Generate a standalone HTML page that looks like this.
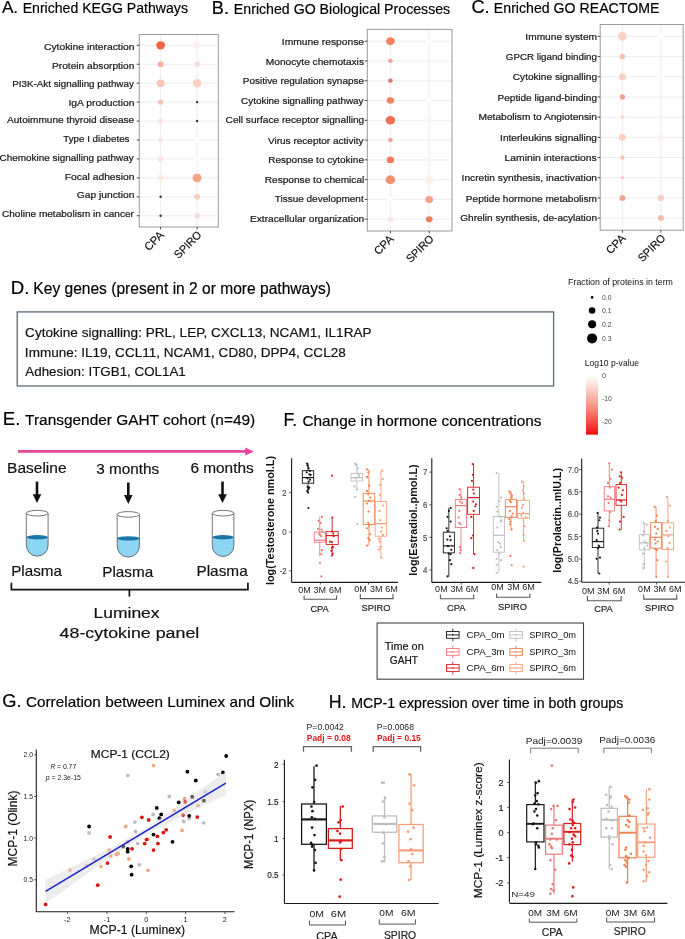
<!DOCTYPE html>
<html><head><meta charset="utf-8"><title>Figure</title>
<style>
html,body{margin:0;padding:0;background:#fff;}
body{width:685px;height:939px;overflow:hidden;}
svg{display:block;font-family:"Liberation Sans", sans-serif;will-change:transform;}
</style></head><body>
<svg width="685" height="939" viewBox="0 0 685 939">
<rect width="685" height="939" fill="#fff"/>
<text x="1.90" y="12.70" font-size="17.2" stroke="#000" stroke-width="0.18">A.</text>
<text x="22.67" y="12.70" font-size="14.0" textLength="165.29" lengthAdjust="spacingAndGlyphs" stroke="#000" stroke-width="0.18">Enriched KEGG Pathways</text>
<rect x="139.30" y="34.50" width="79.00" height="192.50" fill="#fff" stroke="none" stroke-width="1"/>
<line x1="139.30" y1="45.30" x2="218.30" y2="45.30" stroke="#ebebeb" stroke-width="0.9"/>
<line x1="139.30" y1="64.24" x2="218.30" y2="64.24" stroke="#ebebeb" stroke-width="0.9"/>
<line x1="139.30" y1="83.18" x2="218.30" y2="83.18" stroke="#ebebeb" stroke-width="0.9"/>
<line x1="139.30" y1="102.12" x2="218.30" y2="102.12" stroke="#ebebeb" stroke-width="0.9"/>
<line x1="139.30" y1="121.06" x2="218.30" y2="121.06" stroke="#ebebeb" stroke-width="0.9"/>
<line x1="139.30" y1="140.00" x2="218.30" y2="140.00" stroke="#ebebeb" stroke-width="0.9"/>
<line x1="139.30" y1="158.94" x2="218.30" y2="158.94" stroke="#ebebeb" stroke-width="0.9"/>
<line x1="139.30" y1="177.88" x2="218.30" y2="177.88" stroke="#ebebeb" stroke-width="0.9"/>
<line x1="139.30" y1="196.82" x2="218.30" y2="196.82" stroke="#ebebeb" stroke-width="0.9"/>
<line x1="139.30" y1="215.76" x2="218.30" y2="215.76" stroke="#ebebeb" stroke-width="0.9"/>
<line x1="160.60" y1="34.50" x2="160.60" y2="227.00" stroke="#ebebeb" stroke-width="0.9"/>
<line x1="197.10" y1="34.50" x2="197.10" y2="227.00" stroke="#ebebeb" stroke-width="0.9"/>
<rect x="139.30" y="34.50" width="79.00" height="192.50" fill="none" stroke="#9a9a9a" stroke-width="1"/>
<line x1="136.70" y1="45.30" x2="139.30" y2="45.30" stroke="#333" stroke-width="0.9"/>
<line x1="136.70" y1="64.24" x2="139.30" y2="64.24" stroke="#333" stroke-width="0.9"/>
<line x1="136.70" y1="83.18" x2="139.30" y2="83.18" stroke="#333" stroke-width="0.9"/>
<line x1="136.70" y1="102.12" x2="139.30" y2="102.12" stroke="#333" stroke-width="0.9"/>
<line x1="136.70" y1="121.06" x2="139.30" y2="121.06" stroke="#333" stroke-width="0.9"/>
<line x1="136.70" y1="140.00" x2="139.30" y2="140.00" stroke="#333" stroke-width="0.9"/>
<line x1="136.70" y1="158.94" x2="139.30" y2="158.94" stroke="#333" stroke-width="0.9"/>
<line x1="136.70" y1="177.88" x2="139.30" y2="177.88" stroke="#333" stroke-width="0.9"/>
<line x1="136.70" y1="196.82" x2="139.30" y2="196.82" stroke="#333" stroke-width="0.9"/>
<line x1="136.70" y1="215.76" x2="139.30" y2="215.76" stroke="#333" stroke-width="0.9"/>
<line x1="160.60" y1="227.00" x2="160.60" y2="229.40" stroke="#333" stroke-width="0.9"/>
<line x1="197.10" y1="227.00" x2="197.10" y2="229.40" stroke="#333" stroke-width="0.9"/>
<text x="43.99" y="49.50" font-size="9.2" fill="#1a1a1a" textLength="90.46" lengthAdjust="spacingAndGlyphs" stroke="#1a1a1a" stroke-width="0.22">Cytokine interaction</text>
<text x="52.09" y="68.60" font-size="9.2" fill="#1a1a1a" textLength="82.34" lengthAdjust="spacingAndGlyphs" stroke="#1a1a1a" stroke-width="0.22">Protein absorption</text>
<text x="12.32" y="86.60" font-size="9.2" fill="#1a1a1a" textLength="121.49" lengthAdjust="spacingAndGlyphs" stroke="#1a1a1a" stroke-width="0.22">PI3K-Akt signalling pathway</text>
<text x="68.47" y="105.80" font-size="9.2" fill="#1a1a1a" textLength="65.93" lengthAdjust="spacingAndGlyphs" stroke="#1a1a1a" stroke-width="0.22">IgA production</text>
<text x="7.00" y="123.00" font-size="9.2" fill="#1a1a1a" textLength="127.23" lengthAdjust="spacingAndGlyphs" stroke="#1a1a1a" stroke-width="0.22">Autoimmune thyroid disease</text>
<text x="63.30" y="142.30" font-size="9.2" fill="#1a1a1a" textLength="66.16" lengthAdjust="spacingAndGlyphs" stroke="#1a1a1a" stroke-width="0.22">Type I diabetes</text>
<text x="-0.50" y="160.90" font-size="9.2" fill="#1a1a1a" textLength="134.28" lengthAdjust="spacingAndGlyphs" stroke="#1a1a1a" stroke-width="0.22">Chemokine signalling pathway</text>
<text x="64.78" y="179.60" font-size="9.2" fill="#1a1a1a" textLength="69.66" lengthAdjust="spacingAndGlyphs" stroke="#1a1a1a" stroke-width="0.22">Focal adhesion</text>
<text x="76.79" y="198.30" font-size="9.2" fill="#1a1a1a" textLength="57.63" lengthAdjust="spacingAndGlyphs" stroke="#1a1a1a" stroke-width="0.22">Gap junction</text>
<text x="2.00" y="216.80" font-size="9.2" fill="#1a1a1a" textLength="131.93" lengthAdjust="spacingAndGlyphs" stroke="#1a1a1a" stroke-width="0.22">Choline metabolism in cancer</text>
<ellipse cx="160.60" cy="45.30" rx="4.40" ry="4.15" fill="#f26547"/>
<ellipse cx="197.10" cy="45.30" rx="3.40" ry="3.21" fill="#fdf1ed"/>
<ellipse cx="160.60" cy="64.24" rx="3.00" ry="2.83" fill="#f3b2a2"/>
<ellipse cx="197.10" cy="64.24" rx="3.00" ry="2.83" fill="#f8dcd5"/>
<ellipse cx="160.60" cy="83.18" rx="4.00" ry="3.77" fill="#f7c6b9"/>
<ellipse cx="197.10" cy="83.18" rx="4.40" ry="4.15" fill="#f9cfc4"/>
<ellipse cx="160.60" cy="102.12" rx="2.80" ry="2.64" fill="#f1c6b6"/>
<circle cx="197.10" cy="102.12" r="1.20" fill="#333"/>
<ellipse cx="160.60" cy="121.06" rx="2.50" ry="2.36" fill="#f6dedb"/>
<circle cx="197.10" cy="121.06" r="1.20" fill="#333"/>
<ellipse cx="160.60" cy="140.00" rx="2.50" ry="2.36" fill="#f4e2de"/>
<ellipse cx="197.10" cy="140.00" rx="2.60" ry="2.45" fill="#fff"/>
<ellipse cx="160.60" cy="158.94" rx="3.00" ry="2.83" fill="#f8e8e2"/>
<ellipse cx="197.10" cy="158.94" rx="2.60" ry="2.45" fill="#fff"/>
<ellipse cx="160.60" cy="177.88" rx="3.30" ry="3.11" fill="#fbeae4"/>
<ellipse cx="197.10" cy="177.88" rx="4.50" ry="4.25" fill="#f7a385"/>
<circle cx="160.60" cy="196.82" r="1.20" fill="#333"/>
<ellipse cx="197.10" cy="196.82" rx="3.00" ry="2.83" fill="#f6cec2"/>
<circle cx="160.60" cy="215.76" r="1.20" fill="#333"/>
<ellipse cx="197.10" cy="215.76" rx="3.00" ry="2.83" fill="#f8ddd5"/>
<text x="164.60" y="235.60" font-size="11.2" text-anchor="end" fill="#111" textLength="22.50" lengthAdjust="spacingAndGlyphs" transform="rotate(-45 164.60 235.60)" stroke="#111" stroke-width="0.18">CPA</text>
<text x="202.30" y="235.60" font-size="11.2" text-anchor="end" fill="#111" textLength="33.50" lengthAdjust="spacingAndGlyphs" transform="rotate(-45 202.30 235.60)" stroke="#111" stroke-width="0.18">SPIRO</text>
<text x="211.84" y="13.80" font-size="18.2" stroke="#000" stroke-width="0.18">B.</text>
<text x="233.87" y="13.80" font-size="14.0" textLength="216.33" lengthAdjust="spacingAndGlyphs" stroke="#000" stroke-width="0.18">Enriched GO Biological Processes</text>
<rect x="367.30" y="29.40" width="84.70" height="201.60" fill="#fff" stroke="none" stroke-width="1"/>
<line x1="367.30" y1="41.20" x2="452.00" y2="41.20" stroke="#ebebeb" stroke-width="0.9"/>
<line x1="367.30" y1="60.98" x2="452.00" y2="60.98" stroke="#ebebeb" stroke-width="0.9"/>
<line x1="367.30" y1="80.76" x2="452.00" y2="80.76" stroke="#ebebeb" stroke-width="0.9"/>
<line x1="367.30" y1="100.54" x2="452.00" y2="100.54" stroke="#ebebeb" stroke-width="0.9"/>
<line x1="367.30" y1="120.32" x2="452.00" y2="120.32" stroke="#ebebeb" stroke-width="0.9"/>
<line x1="367.30" y1="140.10" x2="452.00" y2="140.10" stroke="#ebebeb" stroke-width="0.9"/>
<line x1="367.30" y1="159.88" x2="452.00" y2="159.88" stroke="#ebebeb" stroke-width="0.9"/>
<line x1="367.30" y1="179.66" x2="452.00" y2="179.66" stroke="#ebebeb" stroke-width="0.9"/>
<line x1="367.30" y1="199.44" x2="452.00" y2="199.44" stroke="#ebebeb" stroke-width="0.9"/>
<line x1="367.30" y1="219.22" x2="452.00" y2="219.22" stroke="#ebebeb" stroke-width="0.9"/>
<line x1="390.40" y1="29.40" x2="390.40" y2="231.00" stroke="#ebebeb" stroke-width="0.9"/>
<line x1="429.20" y1="29.40" x2="429.20" y2="231.00" stroke="#ebebeb" stroke-width="0.9"/>
<rect x="367.30" y="29.40" width="84.70" height="201.60" fill="none" stroke="#9a9a9a" stroke-width="1"/>
<line x1="364.70" y1="41.20" x2="367.30" y2="41.20" stroke="#333" stroke-width="0.9"/>
<line x1="364.70" y1="60.98" x2="367.30" y2="60.98" stroke="#333" stroke-width="0.9"/>
<line x1="364.70" y1="80.76" x2="367.30" y2="80.76" stroke="#333" stroke-width="0.9"/>
<line x1="364.70" y1="100.54" x2="367.30" y2="100.54" stroke="#333" stroke-width="0.9"/>
<line x1="364.70" y1="120.32" x2="367.30" y2="120.32" stroke="#333" stroke-width="0.9"/>
<line x1="364.70" y1="140.10" x2="367.30" y2="140.10" stroke="#333" stroke-width="0.9"/>
<line x1="364.70" y1="159.88" x2="367.30" y2="159.88" stroke="#333" stroke-width="0.9"/>
<line x1="364.70" y1="179.66" x2="367.30" y2="179.66" stroke="#333" stroke-width="0.9"/>
<line x1="364.70" y1="199.44" x2="367.30" y2="199.44" stroke="#333" stroke-width="0.9"/>
<line x1="364.70" y1="219.22" x2="367.30" y2="219.22" stroke="#333" stroke-width="0.9"/>
<line x1="390.40" y1="231.00" x2="390.40" y2="233.40" stroke="#333" stroke-width="0.9"/>
<line x1="429.20" y1="231.00" x2="429.20" y2="233.40" stroke="#333" stroke-width="0.9"/>
<text x="281.88" y="45.40" font-size="9.2" fill="#1a1a1a" textLength="82.13" lengthAdjust="spacingAndGlyphs" stroke="#1a1a1a" stroke-width="0.22">Immune response</text>
<text x="265.79" y="64.60" font-size="9.2" fill="#1a1a1a" textLength="98.18" lengthAdjust="spacingAndGlyphs" stroke="#1a1a1a" stroke-width="0.22">Monocyte chemotaxis</text>
<text x="242.80" y="84.30" font-size="9.2" fill="#1a1a1a" textLength="121.19" lengthAdjust="spacingAndGlyphs" stroke="#1a1a1a" stroke-width="0.22">Positive regulation synapse</text>
<text x="241.00" y="103.50" font-size="9.2" fill="#1a1a1a" textLength="122.60" lengthAdjust="spacingAndGlyphs" stroke="#1a1a1a" stroke-width="0.22">Cytokine signalling pathway</text>
<text x="225.59" y="122.50" font-size="9.2" fill="#1a1a1a" textLength="138.60" lengthAdjust="spacingAndGlyphs" stroke="#1a1a1a" stroke-width="0.22">Cell surface receptor signalling</text>
<text x="267.95" y="143.90" font-size="9.2" fill="#1a1a1a" textLength="95.66" lengthAdjust="spacingAndGlyphs" stroke="#1a1a1a" stroke-width="0.22">Virus receptor activity</text>
<text x="268.20" y="163.40" font-size="9.2" fill="#1a1a1a" textLength="95.81" lengthAdjust="spacingAndGlyphs" stroke="#1a1a1a" stroke-width="0.22">Response to cytokine</text>
<text x="264.69" y="183.10" font-size="9.2" fill="#1a1a1a" textLength="99.60" lengthAdjust="spacingAndGlyphs" stroke="#1a1a1a" stroke-width="0.22">Response to chemical</text>
<text x="274.80" y="202.30" font-size="9.2" fill="#1a1a1a" textLength="88.87" lengthAdjust="spacingAndGlyphs" stroke="#1a1a1a" stroke-width="0.22">Tissue development</text>
<text x="249.99" y="222.40" font-size="9.2" fill="#1a1a1a" textLength="114.26" lengthAdjust="spacingAndGlyphs" stroke="#1a1a1a" stroke-width="0.22">Extracellular organization</text>
<ellipse cx="390.40" cy="41.20" rx="4.40" ry="3.93" fill="#f4845e"/>
<ellipse cx="429.20" cy="41.20" rx="3.00" ry="2.68" fill="#fff"/>
<ellipse cx="390.40" cy="60.98" rx="2.40" ry="2.14" fill="#eea898"/>
<ellipse cx="390.40" cy="80.76" rx="2.40" ry="2.14" fill="#e07a70"/>
<ellipse cx="390.40" cy="100.54" rx="3.70" ry="3.30" fill="#f4845e"/>
<ellipse cx="429.20" cy="100.54" rx="3.00" ry="2.68" fill="#fff"/>
<ellipse cx="390.40" cy="120.32" rx="4.70" ry="4.20" fill="#f47050"/>
<ellipse cx="429.20" cy="120.32" rx="3.50" ry="3.12" fill="#fdf5f2"/>
<ellipse cx="390.40" cy="140.10" rx="2.40" ry="2.14" fill="#eea090"/>
<ellipse cx="390.40" cy="159.88" rx="3.70" ry="3.30" fill="#f47c5e"/>
<ellipse cx="429.20" cy="159.88" rx="3.00" ry="2.68" fill="#fdf6f4"/>
<ellipse cx="390.40" cy="179.66" rx="4.80" ry="4.29" fill="#f49070"/>
<ellipse cx="429.20" cy="179.66" rx="4.20" ry="3.75" fill="#fdf0ec"/>
<ellipse cx="390.40" cy="199.44" rx="3.00" ry="2.68" fill="#fff"/>
<ellipse cx="429.20" cy="199.44" rx="3.90" ry="3.48" fill="#f7a08c"/>
<ellipse cx="390.40" cy="219.22" rx="2.80" ry="2.50" fill="#f9e4de"/>
<ellipse cx="429.20" cy="219.22" rx="3.40" ry="3.04" fill="#f47c5e"/>
<text x="394.40" y="239.60" font-size="11.2" text-anchor="end" fill="#111" textLength="22.50" lengthAdjust="spacingAndGlyphs" transform="rotate(-45 394.40 239.60)" stroke="#111" stroke-width="0.18">CPA</text>
<text x="434.40" y="239.60" font-size="11.2" text-anchor="end" fill="#111" textLength="33.50" lengthAdjust="spacingAndGlyphs" transform="rotate(-45 434.40 239.60)" stroke="#111" stroke-width="0.18">SPIRO</text>
<text x="471.49" y="13.00" font-size="18.2" stroke="#000" stroke-width="0.18">C.</text>
<text x="493.87" y="13.00" font-size="14.0" textLength="165.53" lengthAdjust="spacingAndGlyphs" stroke="#000" stroke-width="0.18">Enriched GO REACTOME</text>
<rect x="600.20" y="24.50" width="83.00" height="205.70" fill="#fff" stroke="none" stroke-width="1"/>
<line x1="600.20" y1="36.40" x2="683.20" y2="36.40" stroke="#ebebeb" stroke-width="0.9"/>
<line x1="600.20" y1="56.59" x2="683.20" y2="56.59" stroke="#ebebeb" stroke-width="0.9"/>
<line x1="600.20" y1="76.78" x2="683.20" y2="76.78" stroke="#ebebeb" stroke-width="0.9"/>
<line x1="600.20" y1="96.97" x2="683.20" y2="96.97" stroke="#ebebeb" stroke-width="0.9"/>
<line x1="600.20" y1="117.16" x2="683.20" y2="117.16" stroke="#ebebeb" stroke-width="0.9"/>
<line x1="600.20" y1="137.35" x2="683.20" y2="137.35" stroke="#ebebeb" stroke-width="0.9"/>
<line x1="600.20" y1="157.54" x2="683.20" y2="157.54" stroke="#ebebeb" stroke-width="0.9"/>
<line x1="600.20" y1="177.73" x2="683.20" y2="177.73" stroke="#ebebeb" stroke-width="0.9"/>
<line x1="600.20" y1="197.92" x2="683.20" y2="197.92" stroke="#ebebeb" stroke-width="0.9"/>
<line x1="600.20" y1="218.11" x2="683.20" y2="218.11" stroke="#ebebeb" stroke-width="0.9"/>
<line x1="622.40" y1="24.50" x2="622.40" y2="230.20" stroke="#ebebeb" stroke-width="0.9"/>
<line x1="660.90" y1="24.50" x2="660.90" y2="230.20" stroke="#ebebeb" stroke-width="0.9"/>
<rect x="600.20" y="24.50" width="83.00" height="205.70" fill="none" stroke="#9a9a9a" stroke-width="1"/>
<line x1="597.60" y1="36.40" x2="600.20" y2="36.40" stroke="#333" stroke-width="0.9"/>
<line x1="597.60" y1="56.59" x2="600.20" y2="56.59" stroke="#333" stroke-width="0.9"/>
<line x1="597.60" y1="76.78" x2="600.20" y2="76.78" stroke="#333" stroke-width="0.9"/>
<line x1="597.60" y1="96.97" x2="600.20" y2="96.97" stroke="#333" stroke-width="0.9"/>
<line x1="597.60" y1="117.16" x2="600.20" y2="117.16" stroke="#333" stroke-width="0.9"/>
<line x1="597.60" y1="137.35" x2="600.20" y2="137.35" stroke="#333" stroke-width="0.9"/>
<line x1="597.60" y1="157.54" x2="600.20" y2="157.54" stroke="#333" stroke-width="0.9"/>
<line x1="597.60" y1="177.73" x2="600.20" y2="177.73" stroke="#333" stroke-width="0.9"/>
<line x1="597.60" y1="197.92" x2="600.20" y2="197.92" stroke="#333" stroke-width="0.9"/>
<line x1="597.60" y1="218.11" x2="600.20" y2="218.11" stroke="#333" stroke-width="0.9"/>
<line x1="622.40" y1="230.20" x2="622.40" y2="232.60" stroke="#333" stroke-width="0.9"/>
<line x1="660.90" y1="230.20" x2="660.90" y2="232.60" stroke="#333" stroke-width="0.9"/>
<text x="525.39" y="39.70" font-size="9.2" fill="#1a1a1a" textLength="71.65" lengthAdjust="spacingAndGlyphs" stroke="#1a1a1a" stroke-width="0.22">Immune system</text>
<text x="505.81" y="59.90" font-size="9.2" fill="#1a1a1a" textLength="91.17" lengthAdjust="spacingAndGlyphs" stroke="#1a1a1a" stroke-width="0.22">GPCR ligand binding</text>
<text x="512.79" y="80.30" font-size="9.2" fill="#1a1a1a" textLength="84.24" lengthAdjust="spacingAndGlyphs" stroke="#1a1a1a" stroke-width="0.22">Cytokine signalling</text>
<text x="497.50" y="101.10" font-size="9.2" fill="#1a1a1a" textLength="99.53" lengthAdjust="spacingAndGlyphs" stroke="#1a1a1a" stroke-width="0.22">Peptide ligand-binding</text>
<text x="478.49" y="120.20" font-size="9.2" fill="#1a1a1a" textLength="118.51" lengthAdjust="spacingAndGlyphs" stroke="#1a1a1a" stroke-width="0.22">Metabolism to Angiotensin</text>
<text x="500.09" y="140.70" font-size="9.2" fill="#1a1a1a" textLength="96.93" lengthAdjust="spacingAndGlyphs" stroke="#1a1a1a" stroke-width="0.22">Interleukins signalling</text>
<text x="504.47" y="160.60" font-size="9.2" fill="#1a1a1a" textLength="92.28" lengthAdjust="spacingAndGlyphs" stroke="#1a1a1a" stroke-width="0.22">Laminin interactions</text>
<text x="461.58" y="181.40" font-size="9.2" fill="#1a1a1a" textLength="135.42" lengthAdjust="spacingAndGlyphs" stroke="#1a1a1a" stroke-width="0.22">Incretin synthesis, inactivation</text>
<text x="465.89" y="201.80" font-size="9.2" fill="#1a1a1a" textLength="131.13" lengthAdjust="spacingAndGlyphs" stroke="#1a1a1a" stroke-width="0.22">Peptide hormone metabolism</text>
<text x="460.30" y="221.00" font-size="9.2" fill="#1a1a1a" textLength="136.73" lengthAdjust="spacingAndGlyphs" stroke="#1a1a1a" stroke-width="0.22">Ghrelin synthesis, de-acylation</text>
<circle cx="622.40" cy="36.40" r="4.40" fill="#fad3c8"/>
<circle cx="660.90" cy="36.40" r="3.00" fill="#fff"/>
<circle cx="622.40" cy="56.59" r="2.80" fill="#f5c0b0"/>
<circle cx="622.40" cy="76.78" r="3.60" fill="#fad2c6"/>
<circle cx="660.90" cy="76.78" r="3.00" fill="#fffaf8"/>
<circle cx="622.40" cy="96.97" r="2.60" fill="#efa08e"/>
<circle cx="622.40" cy="117.16" r="1.80" fill="#f6d2c6"/>
<circle cx="622.40" cy="137.35" r="3.50" fill="#fad0c0"/>
<circle cx="660.90" cy="137.35" r="3.00" fill="#fdf0ec"/>
<circle cx="622.40" cy="157.54" r="2.20" fill="#f5c4b6"/>
<circle cx="622.40" cy="177.73" r="1.80" fill="#f5c8bc"/>
<circle cx="622.40" cy="197.92" r="3.00" fill="#f2a898"/>
<circle cx="660.90" cy="197.92" r="3.20" fill="#f8d0c6"/>
<circle cx="660.90" cy="218.11" r="3.00" fill="#f4bcad"/>
<text x="626.40" y="238.80" font-size="11.2" text-anchor="end" fill="#111" textLength="22.50" lengthAdjust="spacingAndGlyphs" transform="rotate(-45 626.40 238.80)" stroke="#111" stroke-width="0.18">CPA</text>
<text x="666.10" y="238.80" font-size="11.2" text-anchor="end" fill="#111" textLength="33.50" lengthAdjust="spacingAndGlyphs" transform="rotate(-45 666.10 238.80)" stroke="#111" stroke-width="0.18">SPIRO</text>
<text x="568.09" y="284.70" font-size="8.7" fill="#111" textLength="104.87" lengthAdjust="spacingAndGlyphs">Fraction of proteins in term</text>
<circle cx="592.10" cy="297.40" r="1.30" fill="#000"/>
<text x="602.03" y="299.90" font-size="7.2" fill="#444" textLength="9.41" lengthAdjust="spacingAndGlyphs">0.0</text>
<circle cx="592.10" cy="310.50" r="3.30" fill="#000"/>
<text x="602.03" y="313.00" font-size="7.2" fill="#444" textLength="9.48" lengthAdjust="spacingAndGlyphs">0.1</text>
<circle cx="592.10" cy="324.20" r="4.00" fill="#000"/>
<text x="602.03" y="326.70" font-size="7.2" fill="#444" textLength="9.52" lengthAdjust="spacingAndGlyphs">0.2</text>
<circle cx="592.10" cy="338.40" r="5.00" fill="#000"/>
<text x="602.03" y="340.90" font-size="7.2" fill="#444" textLength="9.44" lengthAdjust="spacingAndGlyphs">0.3</text>
<text x="584.82" y="365.50" font-size="8.4" fill="#111" textLength="54.26" lengthAdjust="spacingAndGlyphs">Log10 p-value</text>
<defs><linearGradient id="pg" x1="0" y1="0" x2="0" y2="1"><stop offset="0" stop-color="#ffffff"/><stop offset="0.5" stop-color="#f99a8a"/><stop offset="1" stop-color="#f01010"/></linearGradient></defs>
<rect x="586.00" y="375.70" width="12.00" height="59.00" fill="url(#pg)" stroke="none" stroke-width="1"/>
<text x="602.12" y="378.20" font-size="7.2" fill="#444" textLength="3.94" lengthAdjust="spacingAndGlyphs">0</text>
<text x="602.10" y="401.00" font-size="7.2" fill="#444" textLength="9.64" lengthAdjust="spacingAndGlyphs">-10</text>
<text x="602.10" y="424.00" font-size="7.2" fill="#444" textLength="9.64" lengthAdjust="spacingAndGlyphs">-20</text>
<text x="10.81" y="293.80" font-size="18.6" stroke="#000" stroke-width="0.18">D.</text>
<text x="33.35" y="293.70" font-size="15.6" textLength="297.60" lengthAdjust="spacingAndGlyphs" stroke="#000" stroke-width="0.18">Key genes (present in 2 or more pathways)</text>
<rect x="17.20" y="311.90" width="536.40" height="74.10" fill="none" stroke="#5d6b73" stroke-width="1.3"/>
<text x="25.12" y="337.40" font-size="13.0" fill="#111" textLength="346.45" lengthAdjust="spacingAndGlyphs" stroke="#111" stroke-width="0.18">Cytokine signalling: PRL, LEP, CXCL13, NCAM1, IL1RAP</text>
<text x="24.88" y="356.80" font-size="13.0" fill="#111" textLength="320.84" lengthAdjust="spacingAndGlyphs" stroke="#111" stroke-width="0.18">Immune: IL19, CCL11, NCAM1, CD80, DPP4, CCL28</text>
<text x="25.30" y="376.20" font-size="13.0" fill="#111" textLength="160.52" lengthAdjust="spacingAndGlyphs" stroke="#111" stroke-width="0.18">Adhesion: ITGB1, COL1A1</text>
<text x="2.70" y="424.80" font-size="18.7" stroke="#000" stroke-width="0.18">E.</text>
<text x="25.09" y="424.80" font-size="15.2" textLength="230.10" lengthAdjust="spacingAndGlyphs" stroke="#000" stroke-width="0.18">Transgender GAHT cohort (n=49)</text>
<line x1="18.00" y1="451.40" x2="246.50" y2="451.40" stroke="#e8449a" stroke-width="2.8"/>
<path d="M245.2,447.6 L253.9,451.4 L245.2,455.6 Z" fill="#e8449a" stroke="none" stroke-width="1"/>
<text x="7.06" y="472.60" font-size="13.8" fill="#111" textLength="59.48" lengthAdjust="spacingAndGlyphs" stroke="#111" stroke-width="0.18">Baseline</text>
<text x="96.27" y="473.80" font-size="13.8" fill="#111" textLength="62.84" lengthAdjust="spacingAndGlyphs" stroke="#111" stroke-width="0.18">3 months</text>
<text x="190.43" y="472.60" font-size="13.8" fill="#111" textLength="63.28" lengthAdjust="spacingAndGlyphs" stroke="#111" stroke-width="0.18">6 months</text>
<line x1="37.00" y1="481.60" x2="37.00" y2="497.00" stroke="#111" stroke-width="2.6"/>
<path d="M32.7,494.2 L37.0,503.0 L41.3,494.2 Z" fill="#111" stroke="none" stroke-width="1"/>
<line x1="128.30" y1="482.50" x2="128.30" y2="497.90" stroke="#111" stroke-width="2.6"/>
<path d="M124.0,495.1 L128.3,503.9 L132.6,495.1 Z" fill="#111" stroke="none" stroke-width="1"/>
<line x1="222.50" y1="481.60" x2="222.50" y2="497.10" stroke="#111" stroke-width="2.6"/>
<path d="M218.2,494.3 L222.5,503.1 L226.8,494.3 Z" fill="#111" stroke="none" stroke-width="1"/>
<path d="M26.3,537.3 L26.3,545.3 A10.9,10.9 0 0 0 48.1,545.3 L48.1,537.3 Z" fill="#8dd6f3" stroke="none" stroke-width="1"/>
<ellipse cx="37.2" cy="537.3" rx="10.9" ry="2.2" fill="#1a76a6"/>
<path d="M26.3,513.2 L26.3,545.3 A10.9,10.9 0 0 0 48.1,545.3 L48.1,513.2" fill="none" stroke="#4a4a4a" stroke-width="0.75"/>
<ellipse cx="37.2" cy="513.2" rx="10.9" ry="2.8" fill="#fff" stroke="#4a4a4a" stroke-width="0.75"/>
<path d="M117.2,538.4 L117.2,546.0 A11.1,11.1 0 0 0 139.4,546.0 L139.4,538.4 Z" fill="#8dd6f3" stroke="none" stroke-width="1"/>
<ellipse cx="128.3" cy="538.4" rx="11.1" ry="2.2" fill="#1a76a6"/>
<path d="M117.2,514.4 L117.2,546.0 A11.1,11.1 0 0 0 139.4,546.0 L139.4,514.4" fill="none" stroke="#4a4a4a" stroke-width="0.75"/>
<ellipse cx="128.3" cy="514.4" rx="11.1" ry="2.8" fill="#fff" stroke="#4a4a4a" stroke-width="0.75"/>
<path d="M212.3,537.2 L212.3,545.7 A10.8,10.8 0 0 0 233.9,545.7 L233.9,537.2 Z" fill="#8dd6f3" stroke="none" stroke-width="1"/>
<ellipse cx="223.1" cy="537.2" rx="10.8" ry="2.2" fill="#1a76a6"/>
<path d="M212.3,513.2 L212.3,545.7 A10.8,10.8 0 0 0 233.9,545.7 L233.9,513.2" fill="none" stroke="#4a4a4a" stroke-width="0.75"/>
<ellipse cx="223.1" cy="513.2" rx="10.8" ry="2.8" fill="#fff" stroke="#4a4a4a" stroke-width="0.75"/>
<text x="11.18" y="576.00" font-size="14.4" fill="#111" textLength="50.71" lengthAdjust="spacingAndGlyphs" stroke="#111" stroke-width="0.18">Plasma</text>
<text x="102.28" y="576.90" font-size="14.4" fill="#111" textLength="51.02" lengthAdjust="spacingAndGlyphs" stroke="#111" stroke-width="0.18">Plasma</text>
<text x="196.47" y="576.00" font-size="14.4" fill="#111" textLength="51.22" lengthAdjust="spacingAndGlyphs" stroke="#111" stroke-width="0.18">Plasma</text>
<path d="M11.4,582.8 V589.7 H247.9 V582.8" fill="none" stroke="#111" stroke-width="1.7"/>
<line x1="129.40" y1="589.70" x2="129.40" y2="596.60" stroke="#111" stroke-width="1.7"/>
<text x="93.50" y="617.60" font-size="14.0" fill="#111" textLength="66.07" lengthAdjust="spacingAndGlyphs" stroke="#111" stroke-width="0.18">Luminex</text>
<text x="59.64" y="637.70" font-size="14.0" fill="#111" textLength="139.68" lengthAdjust="spacingAndGlyphs" stroke="#111" stroke-width="0.18">48-cytokine panel</text>
<text x="283.38" y="425.60" font-size="17.8" stroke="#000" stroke-width="0.18">F.</text>
<text x="302.43" y="425.60" font-size="14.6" textLength="239.12" lengthAdjust="spacingAndGlyphs" stroke="#000" stroke-width="0.18">Change in hormone concentrations</text>
<line x1="308.00" y1="463.30" x2="308.00" y2="470.70" stroke="#1a1a1a" stroke-width="0.9"/>
<line x1="308.00" y1="483.20" x2="308.00" y2="493.00" stroke="#1a1a1a" stroke-width="0.9"/>
<rect x="302.30" y="470.70" width="11.40" height="12.50" fill="none" stroke="#1a1a1a" stroke-width="0.9"/>
<line x1="302.30" y1="477.60" x2="313.70" y2="477.60" stroke="#1a1a1a" stroke-width="1.2"/>
<circle cx="307.05" cy="463.66" r="1.10" fill="#1a1a1a"/>
<circle cx="307.59" cy="465.65" r="1.10" fill="#1a1a1a"/>
<circle cx="308.65" cy="468.32" r="1.10" fill="#1a1a1a"/>
<circle cx="309.98" cy="470.98" r="1.10" fill="#1a1a1a"/>
<circle cx="306.66" cy="472.31" r="1.10" fill="#1a1a1a"/>
<circle cx="309.32" cy="474.31" r="1.10" fill="#1a1a1a"/>
<circle cx="310.65" cy="474.97" r="1.10" fill="#1a1a1a"/>
<circle cx="307.32" cy="478.30" r="1.10" fill="#1a1a1a"/>
<circle cx="309.98" cy="479.63" r="1.10" fill="#1a1a1a"/>
<circle cx="308.65" cy="481.63" r="1.10" fill="#1a1a1a"/>
<circle cx="307.59" cy="486.96" r="1.10" fill="#1a1a1a"/>
<circle cx="309.32" cy="487.62" r="1.10" fill="#1a1a1a"/>
<circle cx="308.39" cy="488.95" r="1.10" fill="#1a1a1a"/>
<circle cx="307.32" cy="490.95" r="1.10" fill="#1a1a1a"/>
<circle cx="307.99" cy="492.55" r="1.10" fill="#1a1a1a"/>
<circle cx="308.39" cy="508.00" r="1.10" fill="#1a1a1a"/>
<line x1="319.75" y1="516.50" x2="319.75" y2="532.00" stroke="#f07878" stroke-width="0.9"/>
<line x1="319.75" y1="542.20" x2="319.75" y2="556.20" stroke="#f07878" stroke-width="0.9"/>
<rect x="314.20" y="532.00" width="11.10" height="10.20" fill="none" stroke="#f07878" stroke-width="0.9"/>
<line x1="314.20" y1="540.20" x2="325.30" y2="540.20" stroke="#f07878" stroke-width="1.2"/>
<circle cx="321.97" cy="516.92" r="1.10" fill="#f07878"/>
<circle cx="318.64" cy="520.91" r="1.10" fill="#f07878"/>
<circle cx="320.64" cy="522.91" r="1.10" fill="#f07878"/>
<circle cx="317.97" cy="528.90" r="1.10" fill="#f07878"/>
<circle cx="321.70" cy="529.57" r="1.10" fill="#f07878"/>
<circle cx="319.97" cy="534.89" r="1.10" fill="#f07878"/>
<circle cx="321.30" cy="536.23" r="1.10" fill="#f07878"/>
<circle cx="321.97" cy="550.21" r="1.10" fill="#f07878"/>
<circle cx="321.30" cy="554.20" r="1.10" fill="#f07878"/>
<circle cx="319.97" cy="562.86" r="1.10" fill="#f07878"/>
<circle cx="321.30" cy="576.44" r="1.10" fill="#f07878"/>
<circle cx="319.30" cy="533.56" r="1.10" fill="#f07878"/>
<circle cx="322.63" cy="532.23" r="1.10" fill="#f07878"/>
<line x1="332.20" y1="517.60" x2="332.20" y2="531.60" stroke="#d81e1e" stroke-width="0.9"/>
<line x1="332.20" y1="544.50" x2="332.20" y2="555.50" stroke="#d81e1e" stroke-width="0.9"/>
<rect x="326.20" y="531.60" width="12.00" height="12.90" fill="none" stroke="#d81e1e" stroke-width="0.9"/>
<line x1="326.20" y1="535.60" x2="338.20" y2="535.60" stroke="#d81e1e" stroke-width="1.2"/>
<circle cx="331.95" cy="475.64" r="1.10" fill="#d81e1e"/>
<circle cx="332.35" cy="517.58" r="1.10" fill="#d81e1e"/>
<circle cx="331.95" cy="531.56" r="1.10" fill="#d81e1e"/>
<circle cx="333.29" cy="533.56" r="1.10" fill="#d81e1e"/>
<circle cx="329.96" cy="541.55" r="1.10" fill="#d81e1e"/>
<circle cx="331.95" cy="542.22" r="1.10" fill="#d81e1e"/>
<circle cx="332.89" cy="546.88" r="1.10" fill="#d81e1e"/>
<circle cx="331.95" cy="548.21" r="1.10" fill="#d81e1e"/>
<circle cx="331.29" cy="550.87" r="1.10" fill="#d81e1e"/>
<circle cx="332.62" cy="553.54" r="1.10" fill="#d81e1e"/>
<circle cx="331.95" cy="555.53" r="1.10" fill="#d81e1e"/>
<circle cx="333.69" cy="536.23" r="1.10" fill="#d81e1e"/>
<line x1="356.85" y1="463.30" x2="356.85" y2="473.40" stroke="#bdbdbd" stroke-width="0.9"/>
<line x1="356.85" y1="481.00" x2="356.85" y2="489.90" stroke="#bdbdbd" stroke-width="0.9"/>
<rect x="351.00" y="473.40" width="11.70" height="7.60" fill="none" stroke="#bdbdbd" stroke-width="0.9"/>
<line x1="351.00" y1="477.60" x2="362.70" y2="477.60" stroke="#bdbdbd" stroke-width="1.2"/>
<circle cx="354.99" cy="463.66" r="1.10" fill="#bdbdbd"/>
<circle cx="356.32" cy="464.99" r="1.10" fill="#bdbdbd"/>
<circle cx="357.65" cy="468.32" r="1.10" fill="#bdbdbd"/>
<circle cx="358.98" cy="475.64" r="1.10" fill="#bdbdbd"/>
<circle cx="356.32" cy="478.30" r="1.10" fill="#bdbdbd"/>
<circle cx="354.32" cy="486.29" r="1.10" fill="#bdbdbd"/>
<circle cx="356.99" cy="489.62" r="1.10" fill="#bdbdbd"/>
<circle cx="355.26" cy="496.94" r="1.10" fill="#bdbdbd"/>
<circle cx="357.39" cy="523.97" r="1.10" fill="#bdbdbd"/>
<circle cx="358.32" cy="473.64" r="1.10" fill="#bdbdbd"/>
<line x1="368.95" y1="469.40" x2="368.95" y2="493.30" stroke="#f08050" stroke-width="0.9"/>
<line x1="368.95" y1="524.50" x2="368.95" y2="545.50" stroke="#f08050" stroke-width="0.9"/>
<rect x="363.20" y="493.30" width="11.50" height="31.20" fill="none" stroke="#f08050" stroke-width="0.9"/>
<line x1="363.20" y1="501.00" x2="374.70" y2="501.00" stroke="#f08050" stroke-width="1.2"/>
<circle cx="366.97" cy="469.38" r="1.10" fill="#f08050"/>
<circle cx="368.30" cy="472.31" r="1.10" fill="#f08050"/>
<circle cx="366.97" cy="476.97" r="1.10" fill="#f08050"/>
<circle cx="369.37" cy="485.63" r="1.10" fill="#f08050"/>
<circle cx="366.97" cy="490.95" r="1.10" fill="#f08050"/>
<circle cx="368.30" cy="494.28" r="1.10" fill="#f08050"/>
<circle cx="370.30" cy="497.61" r="1.10" fill="#f08050"/>
<circle cx="368.97" cy="500.94" r="1.10" fill="#f08050"/>
<circle cx="366.97" cy="503.60" r="1.10" fill="#f08050"/>
<circle cx="368.57" cy="511.59" r="1.10" fill="#f08050"/>
<circle cx="368.30" cy="522.91" r="1.10" fill="#f08050"/>
<circle cx="368.97" cy="525.57" r="1.10" fill="#f08050"/>
<circle cx="366.97" cy="528.24" r="1.10" fill="#f08050"/>
<circle cx="370.30" cy="534.23" r="1.10" fill="#f08050"/>
<circle cx="368.30" cy="538.22" r="1.10" fill="#f08050"/>
<circle cx="369.64" cy="540.22" r="1.10" fill="#f08050"/>
<circle cx="366.97" cy="545.55" r="1.10" fill="#f08050"/>
<line x1="380.95" y1="470.70" x2="380.95" y2="501.60" stroke="#f4a07a" stroke-width="0.9"/>
<line x1="380.95" y1="536.20" x2="380.95" y2="557.50" stroke="#f4a07a" stroke-width="0.9"/>
<rect x="375.20" y="501.60" width="11.50" height="34.60" fill="none" stroke="#f4a07a" stroke-width="0.9"/>
<line x1="375.20" y1="523.60" x2="386.70" y2="523.60" stroke="#f4a07a" stroke-width="1.2"/>
<circle cx="382.29" cy="470.71" r="1.10" fill="#f4a07a"/>
<circle cx="382.69" cy="478.97" r="1.10" fill="#f4a07a"/>
<circle cx="380.29" cy="484.96" r="1.10" fill="#f4a07a"/>
<circle cx="380.02" cy="494.95" r="1.10" fill="#f4a07a"/>
<circle cx="382.95" cy="505.60" r="1.10" fill="#f4a07a"/>
<circle cx="379.62" cy="510.93" r="1.10" fill="#f4a07a"/>
<circle cx="380.29" cy="520.25" r="1.10" fill="#f4a07a"/>
<circle cx="381.89" cy="527.57" r="1.10" fill="#f4a07a"/>
<circle cx="380.95" cy="531.56" r="1.10" fill="#f4a07a"/>
<circle cx="382.95" cy="534.89" r="1.10" fill="#f4a07a"/>
<circle cx="378.96" cy="538.89" r="1.10" fill="#f4a07a"/>
<circle cx="379.62" cy="541.55" r="1.10" fill="#f4a07a"/>
<circle cx="380.29" cy="546.88" r="1.10" fill="#f4a07a"/>
<circle cx="378.96" cy="549.54" r="1.10" fill="#f4a07a"/>
<circle cx="381.35" cy="557.53" r="1.10" fill="#f4a07a"/>
<line x1="448.85" y1="507.60" x2="448.85" y2="532.20" stroke="#1a1a1a" stroke-width="0.9"/>
<line x1="448.85" y1="552.90" x2="448.85" y2="576.40" stroke="#1a1a1a" stroke-width="0.9"/>
<rect x="443.30" y="532.20" width="11.10" height="20.70" fill="none" stroke="#1a1a1a" stroke-width="0.9"/>
<line x1="443.30" y1="545.90" x2="454.40" y2="545.90" stroke="#1a1a1a" stroke-width="1.2"/>
<circle cx="450.65" cy="508.00" r="1.10" fill="#1a1a1a"/>
<circle cx="448.92" cy="510.93" r="1.10" fill="#1a1a1a"/>
<circle cx="447.59" cy="516.92" r="1.10" fill="#1a1a1a"/>
<circle cx="450.65" cy="521.58" r="1.10" fill="#1a1a1a"/>
<circle cx="446.66" cy="528.24" r="1.10" fill="#1a1a1a"/>
<circle cx="447.59" cy="530.90" r="1.10" fill="#1a1a1a"/>
<circle cx="449.98" cy="536.23" r="1.10" fill="#1a1a1a"/>
<circle cx="447.32" cy="539.55" r="1.10" fill="#1a1a1a"/>
<circle cx="450.65" cy="540.22" r="1.10" fill="#1a1a1a"/>
<circle cx="447.99" cy="546.21" r="1.10" fill="#1a1a1a"/>
<circle cx="451.32" cy="549.81" r="1.10" fill="#1a1a1a"/>
<circle cx="448.65" cy="553.54" r="1.10" fill="#1a1a1a"/>
<circle cx="450.65" cy="554.20" r="1.10" fill="#1a1a1a"/>
<circle cx="449.98" cy="560.19" r="1.10" fill="#1a1a1a"/>
<circle cx="451.32" cy="564.19" r="1.10" fill="#1a1a1a"/>
<circle cx="447.59" cy="576.44" r="1.10" fill="#1a1a1a"/>
<line x1="460.95" y1="488.30" x2="460.95" y2="499.60" stroke="#f07878" stroke-width="0.9"/>
<line x1="460.95" y1="527.60" x2="460.95" y2="553.30" stroke="#f07878" stroke-width="0.9"/>
<rect x="455.30" y="499.60" width="11.30" height="28.00" fill="none" stroke="#f07878" stroke-width="0.9"/>
<line x1="455.30" y1="505.60" x2="466.60" y2="505.60" stroke="#f07878" stroke-width="1.2"/>
<circle cx="459.30" cy="489.35" r="1.10" fill="#f07878"/>
<circle cx="459.57" cy="494.95" r="1.10" fill="#f07878"/>
<circle cx="461.30" cy="497.61" r="1.10" fill="#f07878"/>
<circle cx="459.97" cy="501.60" r="1.10" fill="#f07878"/>
<circle cx="461.97" cy="502.94" r="1.10" fill="#f07878"/>
<circle cx="459.30" cy="510.93" r="1.10" fill="#f07878"/>
<circle cx="458.64" cy="517.58" r="1.10" fill="#f07878"/>
<circle cx="459.30" cy="522.91" r="1.10" fill="#f07878"/>
<circle cx="460.64" cy="524.24" r="1.10" fill="#f07878"/>
<circle cx="459.97" cy="546.88" r="1.10" fill="#f07878"/>
<circle cx="460.64" cy="550.21" r="1.10" fill="#f07878"/>
<circle cx="459.97" cy="553.27" r="1.10" fill="#f07878"/>
<line x1="473.55" y1="463.70" x2="473.55" y2="487.20" stroke="#d81e1e" stroke-width="0.9"/>
<line x1="473.55" y1="514.30" x2="473.55" y2="554.20" stroke="#d81e1e" stroke-width="0.9"/>
<rect x="467.60" y="487.20" width="11.90" height="27.10" fill="none" stroke="#d81e1e" stroke-width="0.9"/>
<line x1="467.60" y1="497.60" x2="479.50" y2="497.60" stroke="#d81e1e" stroke-width="1.2"/>
<circle cx="472.62" cy="464.05" r="1.10" fill="#d81e1e"/>
<circle cx="472.89" cy="474.97" r="1.10" fill="#d81e1e"/>
<circle cx="471.95" cy="480.97" r="1.10" fill="#d81e1e"/>
<circle cx="473.29" cy="489.62" r="1.10" fill="#d81e1e"/>
<circle cx="473.95" cy="493.62" r="1.10" fill="#d81e1e"/>
<circle cx="473.29" cy="501.60" r="1.10" fill="#d81e1e"/>
<circle cx="475.95" cy="504.27" r="1.10" fill="#d81e1e"/>
<circle cx="475.28" cy="506.26" r="1.10" fill="#d81e1e"/>
<circle cx="473.69" cy="510.93" r="1.10" fill="#d81e1e"/>
<circle cx="471.29" cy="516.92" r="1.10" fill="#d81e1e"/>
<circle cx="471.29" cy="538.22" r="1.10" fill="#d81e1e"/>
<circle cx="472.89" cy="535.56" r="1.10" fill="#d81e1e"/>
<circle cx="474.62" cy="554.20" r="1.10" fill="#d81e1e"/>
<circle cx="473.29" cy="567.92" r="1.10" fill="#d81e1e"/>
<line x1="498.85" y1="473.00" x2="498.85" y2="516.50" stroke="#bdbdbd" stroke-width="0.9"/>
<line x1="498.85" y1="552.20" x2="498.85" y2="572.80" stroke="#bdbdbd" stroke-width="0.9"/>
<rect x="493.30" y="516.50" width="11.10" height="35.70" fill="none" stroke="#bdbdbd" stroke-width="0.9"/>
<line x1="493.30" y1="535.30" x2="504.40" y2="535.30" stroke="#bdbdbd" stroke-width="1.2"/>
<circle cx="496.66" cy="472.98" r="1.10" fill="#bdbdbd"/>
<circle cx="501.05" cy="497.61" r="1.10" fill="#bdbdbd"/>
<circle cx="499.32" cy="500.94" r="1.10" fill="#bdbdbd"/>
<circle cx="496.66" cy="506.93" r="1.10" fill="#bdbdbd"/>
<circle cx="497.32" cy="511.59" r="1.10" fill="#bdbdbd"/>
<circle cx="500.65" cy="516.92" r="1.10" fill="#bdbdbd"/>
<circle cx="501.32" cy="520.25" r="1.10" fill="#bdbdbd"/>
<circle cx="500.65" cy="521.58" r="1.10" fill="#bdbdbd"/>
<circle cx="497.32" cy="527.57" r="1.10" fill="#bdbdbd"/>
<circle cx="497.99" cy="542.22" r="1.10" fill="#bdbdbd"/>
<circle cx="499.98" cy="543.55" r="1.10" fill="#bdbdbd"/>
<circle cx="500.65" cy="546.88" r="1.10" fill="#bdbdbd"/>
<circle cx="497.32" cy="550.21" r="1.10" fill="#bdbdbd"/>
<circle cx="499.32" cy="553.54" r="1.10" fill="#bdbdbd"/>
<circle cx="496.66" cy="558.86" r="1.10" fill="#bdbdbd"/>
<circle cx="501.05" cy="560.19" r="1.10" fill="#bdbdbd"/>
<circle cx="496.66" cy="564.85" r="1.10" fill="#bdbdbd"/>
<circle cx="496.66" cy="572.84" r="1.10" fill="#bdbdbd"/>
<line x1="510.95" y1="491.20" x2="510.95" y2="499.30" stroke="#f08050" stroke-width="0.9"/>
<line x1="510.95" y1="517.30" x2="510.95" y2="529.60" stroke="#f08050" stroke-width="0.9"/>
<rect x="505.30" y="499.30" width="11.30" height="18.00" fill="none" stroke="#f08050" stroke-width="0.9"/>
<line x1="505.30" y1="506.70" x2="516.60" y2="506.70" stroke="#f08050" stroke-width="1.2"/>
<circle cx="509.30" cy="491.62" r="1.10" fill="#f08050"/>
<circle cx="510.37" cy="493.62" r="1.10" fill="#f08050"/>
<circle cx="511.97" cy="495.61" r="1.10" fill="#f08050"/>
<circle cx="511.70" cy="497.61" r="1.10" fill="#f08050"/>
<circle cx="509.97" cy="500.94" r="1.10" fill="#f08050"/>
<circle cx="510.90" cy="502.27" r="1.10" fill="#f08050"/>
<circle cx="509.97" cy="510.93" r="1.10" fill="#f08050"/>
<circle cx="512.63" cy="513.59" r="1.10" fill="#f08050"/>
<circle cx="511.70" cy="516.25" r="1.10" fill="#f08050"/>
<circle cx="509.30" cy="518.91" r="1.10" fill="#f08050"/>
<circle cx="510.37" cy="521.58" r="1.10" fill="#f08050"/>
<circle cx="509.97" cy="524.24" r="1.10" fill="#f08050"/>
<circle cx="511.70" cy="529.57" r="1.10" fill="#f08050"/>
<circle cx="510.37" cy="555.93" r="1.10" fill="#f08050"/>
<circle cx="511.70" cy="565.25" r="1.10" fill="#f08050"/>
<line x1="523.55" y1="481.60" x2="523.55" y2="500.30" stroke="#f4a07a" stroke-width="0.9"/>
<line x1="523.55" y1="518.20" x2="523.55" y2="540.90" stroke="#f4a07a" stroke-width="0.9"/>
<rect x="517.60" y="500.30" width="11.90" height="17.90" fill="none" stroke="#f4a07a" stroke-width="0.9"/>
<line x1="517.60" y1="513.60" x2="529.50" y2="513.60" stroke="#f4a07a" stroke-width="1.2"/>
<circle cx="521.95" cy="481.63" r="1.10" fill="#f4a07a"/>
<circle cx="523.69" cy="486.29" r="1.10" fill="#f4a07a"/>
<circle cx="522.89" cy="490.69" r="1.10" fill="#f4a07a"/>
<circle cx="523.95" cy="493.62" r="1.10" fill="#f4a07a"/>
<circle cx="523.95" cy="498.94" r="1.10" fill="#f4a07a"/>
<circle cx="522.89" cy="504.93" r="1.10" fill="#f4a07a"/>
<circle cx="521.95" cy="507.60" r="1.10" fill="#f4a07a"/>
<circle cx="523.29" cy="512.92" r="1.10" fill="#f4a07a"/>
<circle cx="521.29" cy="515.59" r="1.10" fill="#f4a07a"/>
<circle cx="525.95" cy="517.58" r="1.10" fill="#f4a07a"/>
<circle cx="524.62" cy="526.24" r="1.10" fill="#f4a07a"/>
<circle cx="523.69" cy="534.89" r="1.10" fill="#f4a07a"/>
<circle cx="524.22" cy="540.89" r="1.10" fill="#f4a07a"/>
<circle cx="523.69" cy="566.58" r="1.10" fill="#f4a07a"/>
<line x1="598.00" y1="512.90" x2="598.00" y2="528.20" stroke="#1a1a1a" stroke-width="0.9"/>
<line x1="598.00" y1="547.50" x2="598.00" y2="573.50" stroke="#1a1a1a" stroke-width="0.9"/>
<rect x="592.30" y="528.20" width="11.40" height="19.30" fill="none" stroke="#1a1a1a" stroke-width="0.9"/>
<line x1="592.30" y1="541.60" x2="603.70" y2="541.60" stroke="#1a1a1a" stroke-width="1.2"/>
<circle cx="597.59" cy="512.92" r="1.10" fill="#1a1a1a"/>
<circle cx="599.98" cy="517.58" r="1.10" fill="#1a1a1a"/>
<circle cx="599.32" cy="520.25" r="1.10" fill="#1a1a1a"/>
<circle cx="597.05" cy="527.57" r="1.10" fill="#1a1a1a"/>
<circle cx="597.32" cy="530.90" r="1.10" fill="#1a1a1a"/>
<circle cx="597.99" cy="533.56" r="1.10" fill="#1a1a1a"/>
<circle cx="596.66" cy="540.22" r="1.10" fill="#1a1a1a"/>
<circle cx="598.65" cy="545.55" r="1.10" fill="#1a1a1a"/>
<circle cx="599.32" cy="546.88" r="1.10" fill="#1a1a1a"/>
<circle cx="597.99" cy="548.21" r="1.10" fill="#1a1a1a"/>
<circle cx="599.98" cy="557.53" r="1.10" fill="#1a1a1a"/>
<circle cx="596.66" cy="558.86" r="1.10" fill="#1a1a1a"/>
<circle cx="599.32" cy="573.51" r="1.10" fill="#1a1a1a"/>
<line x1="609.30" y1="463.30" x2="609.30" y2="486.70" stroke="#f07878" stroke-width="0.9"/>
<line x1="609.30" y1="510.90" x2="609.30" y2="526.90" stroke="#f07878" stroke-width="0.9"/>
<rect x="604.20" y="486.70" width="10.20" height="24.20" fill="none" stroke="#f07878" stroke-width="0.9"/>
<line x1="604.20" y1="499.20" x2="614.40" y2="499.20" stroke="#f07878" stroke-width="1.2"/>
<circle cx="609.30" cy="463.26" r="1.10" fill="#f07878"/>
<circle cx="611.97" cy="469.65" r="1.10" fill="#f07878"/>
<circle cx="610.64" cy="478.97" r="1.10" fill="#f07878"/>
<circle cx="607.97" cy="482.96" r="1.10" fill="#f07878"/>
<circle cx="609.97" cy="487.62" r="1.10" fill="#f07878"/>
<circle cx="607.97" cy="496.28" r="1.10" fill="#f07878"/>
<circle cx="610.64" cy="497.61" r="1.10" fill="#f07878"/>
<circle cx="608.64" cy="502.94" r="1.10" fill="#f07878"/>
<circle cx="609.97" cy="512.26" r="1.10" fill="#f07878"/>
<circle cx="609.30" cy="520.25" r="1.10" fill="#f07878"/>
<circle cx="608.64" cy="526.24" r="1.10" fill="#f07878"/>
<line x1="621.30" y1="472.30" x2="621.30" y2="484.60" stroke="#d81e1e" stroke-width="0.9"/>
<line x1="621.30" y1="505.30" x2="621.30" y2="529.60" stroke="#d81e1e" stroke-width="0.9"/>
<rect x="616.00" y="484.60" width="10.60" height="20.70" fill="none" stroke="#d81e1e" stroke-width="0.9"/>
<line x1="616.00" y1="500.00" x2="626.60" y2="500.00" stroke="#d81e1e" stroke-width="1.2"/>
<circle cx="621.02" cy="472.31" r="1.10" fill="#d81e1e"/>
<circle cx="619.69" cy="476.30" r="1.10" fill="#d81e1e"/>
<circle cx="621.95" cy="477.64" r="1.10" fill="#d81e1e"/>
<circle cx="619.96" cy="482.96" r="1.10" fill="#d81e1e"/>
<circle cx="618.63" cy="487.62" r="1.10" fill="#d81e1e"/>
<circle cx="622.89" cy="490.29" r="1.10" fill="#d81e1e"/>
<circle cx="621.95" cy="494.95" r="1.10" fill="#d81e1e"/>
<circle cx="619.96" cy="500.27" r="1.10" fill="#d81e1e"/>
<circle cx="621.29" cy="501.60" r="1.10" fill="#d81e1e"/>
<circle cx="623.69" cy="516.92" r="1.10" fill="#d81e1e"/>
<circle cx="619.96" cy="521.58" r="1.10" fill="#d81e1e"/>
<circle cx="619.69" cy="529.57" r="1.10" fill="#d81e1e"/>
<line x1="644.35" y1="522.90" x2="644.35" y2="534.60" stroke="#bdbdbd" stroke-width="0.9"/>
<line x1="644.35" y1="549.80" x2="644.35" y2="569.50" stroke="#bdbdbd" stroke-width="0.9"/>
<rect x="639.30" y="534.60" width="10.10" height="15.20" fill="none" stroke="#bdbdbd" stroke-width="0.9"/>
<line x1="639.30" y1="542.90" x2="649.40" y2="542.90" stroke="#bdbdbd" stroke-width="1.2"/>
<circle cx="643.66" cy="523.18" r="1.10" fill="#bdbdbd"/>
<circle cx="646.72" cy="524.51" r="1.10" fill="#bdbdbd"/>
<circle cx="643.66" cy="531.56" r="1.10" fill="#bdbdbd"/>
<circle cx="642.99" cy="535.56" r="1.10" fill="#bdbdbd"/>
<circle cx="644.32" cy="541.55" r="1.10" fill="#bdbdbd"/>
<circle cx="646.32" cy="542.88" r="1.10" fill="#bdbdbd"/>
<circle cx="647.25" cy="545.55" r="1.10" fill="#bdbdbd"/>
<circle cx="644.32" cy="548.21" r="1.10" fill="#bdbdbd"/>
<circle cx="642.99" cy="553.54" r="1.10" fill="#bdbdbd"/>
<circle cx="643.66" cy="564.19" r="1.10" fill="#bdbdbd"/>
<circle cx="643.26" cy="568.18" r="1.10" fill="#bdbdbd"/>
<line x1="656.05" y1="506.90" x2="656.05" y2="522.60" stroke="#f08050" stroke-width="0.9"/>
<line x1="656.05" y1="548.20" x2="656.05" y2="576.80" stroke="#f08050" stroke-width="0.9"/>
<rect x="650.70" y="522.60" width="10.70" height="25.60" fill="none" stroke="#f08050" stroke-width="0.9"/>
<line x1="650.70" y1="537.30" x2="661.40" y2="537.30" stroke="#f08050" stroke-width="1.2"/>
<circle cx="654.71" cy="506.93" r="1.10" fill="#f08050"/>
<circle cx="656.97" cy="515.59" r="1.10" fill="#f08050"/>
<circle cx="655.64" cy="520.91" r="1.10" fill="#f08050"/>
<circle cx="654.97" cy="526.90" r="1.10" fill="#f08050"/>
<circle cx="657.64" cy="528.90" r="1.10" fill="#f08050"/>
<circle cx="656.30" cy="533.56" r="1.10" fill="#f08050"/>
<circle cx="654.97" cy="539.55" r="1.10" fill="#f08050"/>
<circle cx="657.64" cy="541.55" r="1.10" fill="#f08050"/>
<circle cx="655.64" cy="543.55" r="1.10" fill="#f08050"/>
<circle cx="654.97" cy="548.87" r="1.10" fill="#f08050"/>
<circle cx="656.97" cy="550.21" r="1.10" fill="#f08050"/>
<circle cx="657.37" cy="560.19" r="1.10" fill="#f08050"/>
<circle cx="656.30" cy="576.84" r="1.10" fill="#f08050"/>
<line x1="667.95" y1="497.00" x2="667.95" y2="522.90" stroke="#f4a07a" stroke-width="0.9"/>
<line x1="667.95" y1="549.50" x2="667.95" y2="576.80" stroke="#f4a07a" stroke-width="0.9"/>
<rect x="662.30" y="522.90" width="11.30" height="26.60" fill="none" stroke="#f4a07a" stroke-width="0.9"/>
<line x1="662.30" y1="534.90" x2="673.60" y2="534.90" stroke="#f4a07a" stroke-width="1.2"/>
<circle cx="666.96" cy="496.94" r="1.10" fill="#f4a07a"/>
<circle cx="669.89" cy="505.60" r="1.10" fill="#f4a07a"/>
<circle cx="668.02" cy="520.91" r="1.10" fill="#f4a07a"/>
<circle cx="669.89" cy="527.57" r="1.10" fill="#f4a07a"/>
<circle cx="666.29" cy="530.90" r="1.10" fill="#f4a07a"/>
<circle cx="668.29" cy="536.23" r="1.10" fill="#f4a07a"/>
<circle cx="669.62" cy="542.88" r="1.10" fill="#f4a07a"/>
<circle cx="667.62" cy="548.21" r="1.10" fill="#f4a07a"/>
<circle cx="666.29" cy="561.52" r="1.10" fill="#f4a07a"/>
<circle cx="668.02" cy="576.84" r="1.10" fill="#f4a07a"/>
<line x1="291.60" y1="458.20" x2="291.60" y2="582.40" stroke="#1a1a1a" stroke-width="1.1"/>
<line x1="289.10" y1="492.60" x2="291.60" y2="492.60" stroke="#333" stroke-width="0.8"/>
<text x="286.60" y="495.82" font-size="9.2" text-anchor="end" fill="#4d4d4d" textLength="4.35" lengthAdjust="spacingAndGlyphs" stroke="#4d4d4d" stroke-width="0.18">2</text>
<line x1="289.10" y1="531.90" x2="291.60" y2="531.90" stroke="#333" stroke-width="0.8"/>
<text x="286.60" y="535.12" font-size="9.2" text-anchor="end" fill="#4d4d4d" textLength="4.35" lengthAdjust="spacingAndGlyphs" stroke="#4d4d4d" stroke-width="0.18">0</text>
<line x1="289.10" y1="570.80" x2="291.60" y2="570.80" stroke="#333" stroke-width="0.8"/>
<text x="286.60" y="574.02" font-size="9.2" text-anchor="end" fill="#4d4d4d" textLength="6.95" lengthAdjust="spacingAndGlyphs" stroke="#4d4d4d" stroke-width="0.18">-2</text>
<line x1="291.80" y1="582.40" x2="398.10" y2="582.40" stroke="#1a1a1a" stroke-width="1.1"/>
<line x1="431.80" y1="458.20" x2="431.80" y2="582.40" stroke="#1a1a1a" stroke-width="1.1"/>
<line x1="429.30" y1="472.10" x2="431.80" y2="472.10" stroke="#333" stroke-width="0.8"/>
<text x="427.40" y="475.32" font-size="9.2" text-anchor="end" fill="#4d4d4d" textLength="4.35" lengthAdjust="spacingAndGlyphs" stroke="#4d4d4d" stroke-width="0.18">7</text>
<line x1="429.30" y1="504.80" x2="431.80" y2="504.80" stroke="#333" stroke-width="0.8"/>
<text x="427.40" y="508.02" font-size="9.2" text-anchor="end" fill="#4d4d4d" textLength="4.35" lengthAdjust="spacingAndGlyphs" stroke="#4d4d4d" stroke-width="0.18">6</text>
<line x1="429.30" y1="537.30" x2="431.80" y2="537.30" stroke="#333" stroke-width="0.8"/>
<text x="427.40" y="540.52" font-size="9.2" text-anchor="end" fill="#4d4d4d" textLength="4.35" lengthAdjust="spacingAndGlyphs" stroke="#4d4d4d" stroke-width="0.18">5</text>
<line x1="429.30" y1="570.00" x2="431.80" y2="570.00" stroke="#333" stroke-width="0.8"/>
<text x="427.40" y="573.22" font-size="9.2" text-anchor="end" fill="#4d4d4d" textLength="4.35" lengthAdjust="spacingAndGlyphs" stroke="#4d4d4d" stroke-width="0.18">4</text>
<line x1="431.80" y1="582.40" x2="541.40" y2="582.40" stroke="#1a1a1a" stroke-width="1.1"/>
<line x1="581.70" y1="458.50" x2="581.70" y2="582.30" stroke="#1a1a1a" stroke-width="1.1"/>
<line x1="579.20" y1="469.70" x2="581.70" y2="469.70" stroke="#333" stroke-width="0.8"/>
<text x="578.60" y="472.92" font-size="9.2" text-anchor="end" fill="#4d4d4d" textLength="10.87" lengthAdjust="spacingAndGlyphs" stroke="#4d4d4d" stroke-width="0.18">7.0</text>
<line x1="579.20" y1="491.90" x2="581.70" y2="491.90" stroke="#333" stroke-width="0.8"/>
<text x="578.60" y="495.12" font-size="9.2" text-anchor="end" fill="#4d4d4d" textLength="10.87" lengthAdjust="spacingAndGlyphs" stroke="#4d4d4d" stroke-width="0.18">6.5</text>
<line x1="579.20" y1="514.10" x2="581.70" y2="514.10" stroke="#333" stroke-width="0.8"/>
<text x="578.60" y="517.32" font-size="9.2" text-anchor="end" fill="#4d4d4d" textLength="10.87" lengthAdjust="spacingAndGlyphs" stroke="#4d4d4d" stroke-width="0.18">6.0</text>
<line x1="579.20" y1="536.40" x2="581.70" y2="536.40" stroke="#333" stroke-width="0.8"/>
<text x="578.60" y="539.62" font-size="9.2" text-anchor="end" fill="#4d4d4d" textLength="10.87" lengthAdjust="spacingAndGlyphs" stroke="#4d4d4d" stroke-width="0.18">5.5</text>
<line x1="579.20" y1="559.00" x2="581.70" y2="559.00" stroke="#333" stroke-width="0.8"/>
<text x="578.60" y="562.22" font-size="9.2" text-anchor="end" fill="#4d4d4d" textLength="10.87" lengthAdjust="spacingAndGlyphs" stroke="#4d4d4d" stroke-width="0.18">5.0</text>
<line x1="579.20" y1="581.20" x2="581.70" y2="581.20" stroke="#333" stroke-width="0.8"/>
<text x="578.60" y="584.42" font-size="9.2" text-anchor="end" fill="#4d4d4d" textLength="10.87" lengthAdjust="spacingAndGlyphs" stroke="#4d4d4d" stroke-width="0.18">4.5</text>
<line x1="581.70" y1="582.30" x2="685.00" y2="582.30" stroke="#1a1a1a" stroke-width="1.1"/>
<line x1="320.40" y1="582.30" x2="320.40" y2="584.60" stroke="#333" stroke-width="0.8"/>
<line x1="368.50" y1="582.30" x2="368.50" y2="584.60" stroke="#333" stroke-width="0.8"/>
<text x="298.24" y="592.50" font-size="8.2" fill="#222" textLength="12.52" lengthAdjust="spacingAndGlyphs">0M</text>
<text x="313.59" y="592.50" font-size="8.2" fill="#222" textLength="12.47" lengthAdjust="spacingAndGlyphs">3M</text>
<text x="329.05" y="592.50" font-size="8.2" fill="#222" textLength="12.62" lengthAdjust="spacingAndGlyphs">6M</text>
<text x="354.34" y="591.60" font-size="8.2" fill="#222" textLength="12.52" lengthAdjust="spacingAndGlyphs">0M</text>
<text x="369.99" y="591.60" font-size="8.2" fill="#222" textLength="12.47" lengthAdjust="spacingAndGlyphs">3M</text>
<text x="385.25" y="591.60" font-size="8.2" fill="#222" textLength="12.62" lengthAdjust="spacingAndGlyphs">6M</text>
<path d="M304.1,595.5 V599.3 H336.6 V595.5" fill="none" stroke="#5a5a5a" stroke-width="1.1"/>
<path d="M360.3,594.0 V598.6 H393.0 V594.0" fill="none" stroke="#5a5a5a" stroke-width="1.1"/>
<text x="319.60" y="611.90" font-size="9.3" text-anchor="middle" fill="#222" stroke="#222" stroke-width="0.18">CPA</text>
<text x="376.00" y="610.60" font-size="9.3" text-anchor="middle" fill="#222" stroke="#222" stroke-width="0.18">SPIRO</text>
<line x1="461.30" y1="582.30" x2="461.30" y2="584.60" stroke="#333" stroke-width="0.8"/>
<line x1="513.40" y1="582.30" x2="513.40" y2="584.60" stroke="#333" stroke-width="0.8"/>
<text x="435.14" y="591.50" font-size="8.2" fill="#222" textLength="12.52" lengthAdjust="spacingAndGlyphs">0M</text>
<text x="450.49" y="591.50" font-size="8.2" fill="#222" textLength="12.47" lengthAdjust="spacingAndGlyphs">3M</text>
<text x="465.75" y="591.50" font-size="8.2" fill="#222" textLength="12.62" lengthAdjust="spacingAndGlyphs">6M</text>
<text x="491.34" y="590.30" font-size="8.2" fill="#222" textLength="12.52" lengthAdjust="spacingAndGlyphs">0M</text>
<text x="507.39" y="590.30" font-size="8.2" fill="#222" textLength="12.47" lengthAdjust="spacingAndGlyphs">3M</text>
<text x="522.25" y="590.30" font-size="8.2" fill="#222" textLength="12.62" lengthAdjust="spacingAndGlyphs">6M</text>
<path d="M440.4,594.6 V598.8 H473.7 V594.6" fill="none" stroke="#5a5a5a" stroke-width="1.1"/>
<path d="M496.6,593.5 V597.2 H529.9 V593.5" fill="none" stroke="#5a5a5a" stroke-width="1.1"/>
<text x="456.30" y="610.70" font-size="9.3" text-anchor="middle" fill="#222" stroke="#222" stroke-width="0.18">CPA</text>
<text x="512.50" y="609.50" font-size="9.3" text-anchor="middle" fill="#222" stroke="#222" stroke-width="0.18">SPIRO</text>
<line x1="609.20" y1="582.30" x2="609.20" y2="584.60" stroke="#333" stroke-width="0.8"/>
<line x1="656.60" y1="582.30" x2="656.60" y2="584.60" stroke="#333" stroke-width="0.8"/>
<text x="581.94" y="593.50" font-size="8.2" fill="#222" textLength="12.52" lengthAdjust="spacingAndGlyphs">0M</text>
<text x="597.39" y="593.50" font-size="8.2" fill="#222" textLength="12.47" lengthAdjust="spacingAndGlyphs">3M</text>
<text x="612.65" y="593.50" font-size="8.2" fill="#222" textLength="12.62" lengthAdjust="spacingAndGlyphs">6M</text>
<text x="638.14" y="591.90" font-size="8.2" fill="#222" textLength="12.52" lengthAdjust="spacingAndGlyphs">0M</text>
<text x="653.59" y="591.90" font-size="8.2" fill="#222" textLength="12.47" lengthAdjust="spacingAndGlyphs">3M</text>
<text x="668.95" y="591.90" font-size="8.2" fill="#222" textLength="12.62" lengthAdjust="spacingAndGlyphs">6M</text>
<path d="M587.4,595.9 V600.7 H621.1 V595.9" fill="none" stroke="#5a5a5a" stroke-width="1.1"/>
<path d="M643.7,594.6 V599.1 H676.7 V594.6" fill="none" stroke="#5a5a5a" stroke-width="1.1"/>
<text x="603.40" y="612.40" font-size="9.3" text-anchor="middle" fill="#222" stroke="#222" stroke-width="0.18">CPA</text>
<text x="659.50" y="611.10" font-size="9.3" text-anchor="middle" fill="#222" stroke="#222" stroke-width="0.18">SPIRO</text>
<text x="273.90" y="520.50" font-size="10.0" text-anchor="middle" font-weight="bold" fill="#111" textLength="129.00" lengthAdjust="spacingAndGlyphs" transform="rotate(-90 273.90 520.50)">log(Testosterone nmol.L)</text>
<text x="417.00" y="520.00" font-size="10.0" text-anchor="middle" font-weight="bold" fill="#111" textLength="111.40" lengthAdjust="spacingAndGlyphs" transform="rotate(-90 417.00 520.00)">log(Estradiol..pmol.L)</text>
<text x="560.60" y="520.40" font-size="10.0" text-anchor="middle" font-weight="bold" fill="#111" textLength="104.80" lengthAdjust="spacingAndGlyphs" transform="rotate(-90 560.60 520.40)">log(Prolactin..mIU.L)</text>
<rect x="377.10" y="623.00" width="206.40" height="56.20" fill="#fff" stroke="#444" stroke-width="1.1"/>
<text x="384.78" y="649.90" font-size="10.4" fill="#111" textLength="38.98" lengthAdjust="spacingAndGlyphs" stroke="#111" stroke-width="0.18">Time on</text>
<text x="389.79" y="663.70" font-size="10.4" fill="#111" textLength="28.24" lengthAdjust="spacingAndGlyphs" stroke="#111" stroke-width="0.18">GAHT</text>
<line x1="452.80" y1="628.60" x2="452.80" y2="641.20" stroke="#1a1a1a" stroke-width="0.9"/>
<rect x="446.50" y="631.50" width="12.60" height="6.80" fill="#fff" stroke="#1a1a1a" stroke-width="0.9"/>
<line x1="446.50" y1="634.90" x2="459.10" y2="634.90" stroke="#1a1a1a" stroke-width="0.9"/>
<circle cx="452.80" cy="634.90" r="0.80" fill="#1a1a1a"/>
<line x1="516.10" y1="628.60" x2="516.10" y2="641.20" stroke="#bdbdbd" stroke-width="0.9"/>
<rect x="509.80" y="631.50" width="12.60" height="6.80" fill="#fff" stroke="#bdbdbd" stroke-width="0.9"/>
<line x1="509.80" y1="634.90" x2="522.40" y2="634.90" stroke="#bdbdbd" stroke-width="0.9"/>
<circle cx="516.10" cy="634.90" r="0.80" fill="#bdbdbd"/>
<text x="466.52" y="638.00" font-size="8.4" fill="#111" textLength="38.09" lengthAdjust="spacingAndGlyphs">CPA_0m</text>
<text x="529.18" y="638.00" font-size="8.4" fill="#111" textLength="46.89" lengthAdjust="spacingAndGlyphs">SPIRO_0m</text>
<line x1="452.80" y1="645.60" x2="452.80" y2="658.20" stroke="#f07878" stroke-width="0.9"/>
<rect x="446.50" y="648.50" width="12.60" height="6.80" fill="#fff" stroke="#f07878" stroke-width="0.9"/>
<line x1="446.50" y1="651.90" x2="459.10" y2="651.90" stroke="#f07878" stroke-width="0.9"/>
<circle cx="452.80" cy="651.90" r="0.80" fill="#f07878"/>
<line x1="516.10" y1="645.60" x2="516.10" y2="658.20" stroke="#f08050" stroke-width="0.9"/>
<rect x="509.80" y="648.50" width="12.60" height="6.80" fill="#fff" stroke="#f08050" stroke-width="0.9"/>
<line x1="509.80" y1="651.90" x2="522.40" y2="651.90" stroke="#f08050" stroke-width="0.9"/>
<circle cx="516.10" cy="651.90" r="0.80" fill="#f08050"/>
<text x="466.52" y="655.00" font-size="8.4" fill="#111" textLength="38.09" lengthAdjust="spacingAndGlyphs">CPA_3m</text>
<text x="529.18" y="655.00" font-size="8.4" fill="#111" textLength="46.89" lengthAdjust="spacingAndGlyphs">SPIRO_3m</text>
<line x1="452.80" y1="661.70" x2="452.80" y2="674.30" stroke="#d81e1e" stroke-width="0.9"/>
<rect x="446.50" y="664.60" width="12.60" height="6.80" fill="#fff" stroke="#d81e1e" stroke-width="0.9"/>
<line x1="446.50" y1="668.00" x2="459.10" y2="668.00" stroke="#d81e1e" stroke-width="0.9"/>
<circle cx="452.80" cy="668.00" r="0.80" fill="#d81e1e"/>
<line x1="516.10" y1="661.70" x2="516.10" y2="674.30" stroke="#f4a07a" stroke-width="0.9"/>
<rect x="509.80" y="664.60" width="12.60" height="6.80" fill="#fff" stroke="#f4a07a" stroke-width="0.9"/>
<line x1="509.80" y1="668.00" x2="522.40" y2="668.00" stroke="#f4a07a" stroke-width="0.9"/>
<circle cx="516.10" cy="668.00" r="0.80" fill="#f4a07a"/>
<text x="466.52" y="671.10" font-size="8.4" fill="#111" textLength="38.09" lengthAdjust="spacingAndGlyphs">CPA_6m</text>
<text x="529.18" y="671.10" font-size="8.4" fill="#111" textLength="46.89" lengthAdjust="spacingAndGlyphs">SPIRO_6m</text>
<text x="2.19" y="707.00" font-size="18.3" stroke="#000" stroke-width="0.18">G.</text>
<text x="25.93" y="707.00" font-size="14.6" textLength="268.37" lengthAdjust="spacingAndGlyphs" stroke="#000" stroke-width="0.18">Correlation between Luminex and Olink</text>
<circle cx="127.70" cy="775.50" r="1.90" fill="#bdbdbd"/>
<circle cx="218.10" cy="774.40" r="1.90" fill="#bdbdbd"/>
<circle cx="169.30" cy="796.50" r="1.90" fill="#bdbdbd"/>
<circle cx="205.40" cy="791.90" r="1.90" fill="#bdbdbd"/>
<circle cx="153.10" cy="814.40" r="1.90" fill="#bdbdbd"/>
<circle cx="134.90" cy="822.10" r="1.90" fill="#bdbdbd"/>
<circle cx="135.50" cy="831.50" r="1.90" fill="#bdbdbd"/>
<circle cx="137.70" cy="843.60" r="1.90" fill="#bdbdbd"/>
<circle cx="183.70" cy="821.50" r="1.90" fill="#bdbdbd"/>
<circle cx="189.20" cy="818.40" r="1.90" fill="#bdbdbd"/>
<circle cx="203.60" cy="822.80" r="1.90" fill="#bdbdbd"/>
<circle cx="139.30" cy="864.80" r="1.90" fill="#bdbdbd"/>
<circle cx="93.90" cy="859.30" r="1.90" fill="#bdbdbd"/>
<circle cx="89.10" cy="832.90" r="1.90" fill="#bdbdbd"/>
<circle cx="153.50" cy="765.60" r="1.90" fill="#f4a582"/>
<circle cx="125.70" cy="826.50" r="1.90" fill="#f4a582"/>
<circle cx="174.30" cy="810.50" r="1.90" fill="#f4a582"/>
<circle cx="198.00" cy="805.70" r="1.90" fill="#f4a582"/>
<circle cx="184.60" cy="798.70" r="1.90" fill="#f4a582"/>
<circle cx="182.00" cy="830.40" r="1.90" fill="#f4a582"/>
<circle cx="148.00" cy="839.20" r="1.90" fill="#f4a582"/>
<circle cx="127.70" cy="841.80" r="1.90" fill="#f4a582"/>
<circle cx="128.80" cy="858.90" r="1.90" fill="#f4a582"/>
<circle cx="118.00" cy="853.40" r="1.90" fill="#f4a582"/>
<circle cx="116.30" cy="854.50" r="1.90" fill="#f4a582"/>
<circle cx="110.80" cy="856.00" r="1.90" fill="#f4a582"/>
<circle cx="101.00" cy="866.60" r="1.90" fill="#f4a582"/>
<circle cx="109.30" cy="850.10" r="1.90" fill="#f4a582"/>
<circle cx="148.00" cy="870.30" r="1.90" fill="#f4a582"/>
<circle cx="70.00" cy="870.00" r="1.90" fill="#f4a582"/>
<circle cx="86.50" cy="865.80" r="1.90" fill="#f4a582"/>
<circle cx="141.90" cy="817.30" r="1.90" fill="#dd1111"/>
<circle cx="148.70" cy="819.90" r="1.90" fill="#dd1111"/>
<circle cx="110.10" cy="837.00" r="1.90" fill="#dd1111"/>
<circle cx="157.40" cy="836.30" r="1.90" fill="#dd1111"/>
<circle cx="146.50" cy="839.60" r="1.90" fill="#dd1111"/>
<circle cx="144.70" cy="843.60" r="1.90" fill="#dd1111"/>
<circle cx="157.90" cy="843.60" r="1.90" fill="#dd1111"/>
<circle cx="153.50" cy="850.10" r="1.90" fill="#dd1111"/>
<circle cx="132.00" cy="848.80" r="1.90" fill="#dd1111"/>
<circle cx="163.40" cy="832.60" r="1.90" fill="#dd1111"/>
<circle cx="166.20" cy="829.80" r="1.90" fill="#dd1111"/>
<circle cx="183.10" cy="815.10" r="1.90" fill="#dd1111"/>
<circle cx="185.20" cy="802.00" r="1.90" fill="#dd1111"/>
<circle cx="197.30" cy="817.10" r="1.90" fill="#dd1111"/>
<circle cx="107.50" cy="863.10" r="1.90" fill="#dd1111"/>
<circle cx="97.70" cy="885.20" r="1.90" fill="#dd1111"/>
<circle cx="45.60" cy="904.40" r="1.90" fill="#dd1111"/>
<circle cx="226.20" cy="756.00" r="1.90" fill="#000"/>
<circle cx="222.90" cy="772.40" r="1.90" fill="#000"/>
<circle cx="187.40" cy="771.70" r="1.90" fill="#000"/>
<circle cx="195.80" cy="780.50" r="1.90" fill="#000"/>
<circle cx="192.30" cy="796.90" r="1.90" fill="#000"/>
<circle cx="203.90" cy="800.70" r="1.90" fill="#000"/>
<circle cx="178.70" cy="802.40" r="1.90" fill="#000"/>
<circle cx="156.80" cy="807.90" r="1.90" fill="#000"/>
<circle cx="161.20" cy="814.40" r="1.90" fill="#000"/>
<circle cx="159.40" cy="818.20" r="1.90" fill="#000"/>
<circle cx="189.20" cy="815.80" r="1.90" fill="#000"/>
<circle cx="153.50" cy="834.60" r="1.90" fill="#000"/>
<circle cx="172.50" cy="841.80" r="1.90" fill="#000"/>
<circle cx="127.70" cy="848.80" r="1.90" fill="#000"/>
<circle cx="127.70" cy="851.70" r="1.90" fill="#000"/>
<circle cx="123.30" cy="846.60" r="1.90" fill="#000"/>
<circle cx="131.20" cy="866.30" r="1.90" fill="#000"/>
<circle cx="131.60" cy="874.70" r="1.90" fill="#000"/>
<circle cx="89.10" cy="826.50" r="1.90" fill="#000"/>
<polygon points="45.6,879.8 50.1,877.6 54.6,875.5 59.1,873.3 63.6,871.1 68.1,868.9 72.6,866.7 77.1,864.5 81.6,862.3 86.1,860.1 90.7,857.9 95.2,855.6 99.7,853.4 104.2,851.1 108.7,848.8 113.2,846.4 117.7,844.1 122.2,841.6 126.7,839.1 131.2,836.6 135.7,833.9 140.2,831.2 144.7,828.3 149.2,825.4 153.7,822.4 158.2,819.4 162.7,816.3 167.2,813.2 171.7,810.1 176.2,806.9 180.8,803.7 185.3,800.5 189.8,797.3 194.3,794.1 198.8,790.9 203.3,787.7 207.8,784.4 212.3,781.2 216.8,778.0 221.3,774.7 225.8,771.5 225.8,794.9 221.3,797.1 216.8,799.3 212.3,801.5 207.8,803.6 203.3,805.8 198.8,808.0 194.3,810.2 189.8,812.4 185.3,814.7 180.8,816.9 176.2,819.1 171.7,821.4 167.2,823.7 162.7,826.0 158.2,828.3 153.7,830.7 149.2,833.1 144.7,835.6 140.2,838.2 135.7,840.9 131.2,843.7 126.7,846.5 122.2,849.4 117.7,852.4 113.2,855.5 108.7,858.5 104.2,861.7 99.7,864.8 95.2,868.0 90.7,871.1 86.1,874.3 81.6,877.5 77.1,880.8 72.6,884.0 68.1,887.2 63.6,890.4 59.1,893.7 54.6,896.9 50.1,900.1 45.6,903.4" fill="#d4d4d4" fill-opacity="0.45"/>
<line x1="45.60" y1="891.40" x2="225.80" y2="783.20" stroke="#1a1ec8" stroke-width="1.5"/>
<line x1="36.30" y1="749.50" x2="36.30" y2="912.00" stroke="#1a1a1a" stroke-width="1.1"/>
<line x1="34.10" y1="754.80" x2="36.30" y2="754.80" stroke="#333" stroke-width="0.8"/>
<text x="33.00" y="757.39" font-size="7.4" text-anchor="end" fill="#222" textLength="9.46" lengthAdjust="spacingAndGlyphs">2.0</text>
<line x1="34.10" y1="796.50" x2="36.30" y2="796.50" stroke="#333" stroke-width="0.8"/>
<text x="33.00" y="799.09" font-size="7.4" text-anchor="end" fill="#222" textLength="9.46" lengthAdjust="spacingAndGlyphs">1.5</text>
<line x1="34.10" y1="838.10" x2="36.30" y2="838.10" stroke="#333" stroke-width="0.8"/>
<text x="33.00" y="840.69" font-size="7.4" text-anchor="end" fill="#222" textLength="9.46" lengthAdjust="spacingAndGlyphs">1.0</text>
<line x1="34.10" y1="879.80" x2="36.30" y2="879.80" stroke="#333" stroke-width="0.8"/>
<text x="33.00" y="882.39" font-size="7.4" text-anchor="end" fill="#222" textLength="9.46" lengthAdjust="spacingAndGlyphs">0.5</text>
<line x1="36.30" y1="911.80" x2="234.50" y2="911.80" stroke="#1a1a1a" stroke-width="1.1"/>
<line x1="67.40" y1="911.80" x2="67.40" y2="914.00" stroke="#333" stroke-width="0.8"/>
<text x="67.40" y="921.60" font-size="7.4" text-anchor="middle" fill="#222">-2</text>
<line x1="107.00" y1="911.80" x2="107.00" y2="914.00" stroke="#333" stroke-width="0.8"/>
<text x="107.00" y="921.60" font-size="7.4" text-anchor="middle" fill="#222">-1</text>
<line x1="146.30" y1="911.80" x2="146.30" y2="914.00" stroke="#333" stroke-width="0.8"/>
<text x="146.30" y="921.60" font-size="7.4" text-anchor="middle" fill="#222">0</text>
<line x1="185.60" y1="911.80" x2="185.60" y2="914.00" stroke="#333" stroke-width="0.8"/>
<text x="185.60" y="921.60" font-size="7.4" text-anchor="middle" fill="#222">1</text>
<line x1="224.90" y1="911.80" x2="224.90" y2="914.00" stroke="#333" stroke-width="0.8"/>
<text x="224.90" y="921.60" font-size="7.4" text-anchor="middle" fill="#222">2</text>
<text x="90.84" y="757.90" font-size="10.9" fill="#111" textLength="79.00" lengthAdjust="spacingAndGlyphs" stroke="#111" stroke-width="0.18">MCP-1 (CCL2)</text>
<text x="50.60" y="768.90" font-size="6.9" font-style="italic" fill="#222">R</text>
<text x="56.96" y="768.90" font-size="6.9" fill="#222" textLength="19.31" lengthAdjust="spacingAndGlyphs">= 0.77</text>
<text x="45.80" y="780.40" font-size="6.9" font-style="italic" fill="#222">p</text>
<text x="51.46" y="780.40" font-size="6.9" fill="#222" textLength="29.35" lengthAdjust="spacingAndGlyphs">= 2.3e-15</text>
<text x="89.62" y="934.30" font-size="12.6" fill="#111" textLength="95.57" lengthAdjust="spacingAndGlyphs" stroke="#111" stroke-width="0.18">MCP-1 (Luminex)</text>
<text x="17.44" y="828.50" font-size="12.6" text-anchor="middle" fill="#111" textLength="75.80" lengthAdjust="spacingAndGlyphs" transform="rotate(-90 17.44 828.50)" stroke="#111" stroke-width="0.18">MCP-1 (Olink)</text>
<text x="328.68" y="707.50" font-size="17.8" stroke="#000" stroke-width="0.18">H.</text>
<text x="351.17" y="707.50" font-size="13.8" textLength="272.15" lengthAdjust="spacingAndGlyphs" stroke="#000" stroke-width="0.18">MCP-1 expression over time in both groups</text>
<line x1="314.00" y1="766.20" x2="314.00" y2="804.00" stroke="#1a1a1a" stroke-width="1.3"/>
<line x1="314.00" y1="844.30" x2="314.00" y2="870.50" stroke="#1a1a1a" stroke-width="1.3"/>
<rect x="301.60" y="804.00" width="24.80" height="40.30" fill="none" stroke="#1a1a1a" stroke-width="1.3"/>
<line x1="301.60" y1="819.40" x2="326.40" y2="819.40" stroke="#1a1a1a" stroke-width="2.2"/>
<circle cx="316.57" cy="765.63" r="1.35" fill="#1a1a1a"/>
<circle cx="315.14" cy="779.93" r="1.35" fill="#1a1a1a"/>
<circle cx="312.48" cy="787.29" r="1.35" fill="#1a1a1a"/>
<circle cx="314.12" cy="802.01" r="1.35" fill="#1a1a1a"/>
<circle cx="311.46" cy="806.50" r="1.35" fill="#1a1a1a"/>
<circle cx="312.48" cy="811.20" r="1.35" fill="#1a1a1a"/>
<circle cx="311.87" cy="817.33" r="1.35" fill="#1a1a1a"/>
<circle cx="314.93" cy="818.76" r="1.35" fill="#1a1a1a"/>
<circle cx="312.07" cy="827.55" r="1.35" fill="#1a1a1a"/>
<circle cx="314.52" cy="835.11" r="1.35" fill="#1a1a1a"/>
<circle cx="311.05" cy="842.88" r="1.35" fill="#1a1a1a"/>
<circle cx="312.07" cy="846.56" r="1.35" fill="#1a1a1a"/>
<circle cx="314.93" cy="850.03" r="1.35" fill="#1a1a1a"/>
<circle cx="312.48" cy="844.92" r="1.35" fill="#1a1a1a"/>
<circle cx="315.55" cy="862.91" r="1.35" fill="#1a1a1a"/>
<circle cx="314.12" cy="870.47" r="1.35" fill="#1a1a1a"/>
<line x1="340.35" y1="806.10" x2="340.35" y2="828.60" stroke="#d81e1e" stroke-width="1.3"/>
<line x1="340.35" y1="848.40" x2="340.35" y2="860.30" stroke="#d81e1e" stroke-width="1.3"/>
<rect x="328.40" y="828.60" width="23.90" height="19.80" fill="none" stroke="#d81e1e" stroke-width="1.3"/>
<line x1="328.40" y1="840.40" x2="352.30" y2="840.40" stroke="#d81e1e" stroke-width="2.2"/>
<circle cx="342.73" cy="806.50" r="1.35" fill="#d81e1e"/>
<circle cx="340.68" cy="819.99" r="1.35" fill="#d81e1e"/>
<circle cx="338.64" cy="822.44" r="1.35" fill="#d81e1e"/>
<circle cx="337.41" cy="831.03" r="1.35" fill="#d81e1e"/>
<circle cx="340.07" cy="833.68" r="1.35" fill="#d81e1e"/>
<circle cx="341.09" cy="840.84" r="1.35" fill="#d81e1e"/>
<circle cx="340.07" cy="842.47" r="1.35" fill="#d81e1e"/>
<circle cx="341.09" cy="849.01" r="1.35" fill="#d81e1e"/>
<circle cx="341.50" cy="860.25" r="1.35" fill="#d81e1e"/>
<circle cx="340.68" cy="879.67" r="1.35" fill="#d81e1e"/>
<circle cx="339.66" cy="896.63" r="1.35" fill="#d81e1e"/>
<line x1="384.55" y1="796.90" x2="384.55" y2="815.90" stroke="#bdbdbd" stroke-width="1.3"/>
<line x1="384.55" y1="832.30" x2="384.55" y2="861.00" stroke="#bdbdbd" stroke-width="1.3"/>
<rect x="372.40" y="815.90" width="24.30" height="16.40" fill="none" stroke="#bdbdbd" stroke-width="1.3"/>
<line x1="372.40" y1="823.90" x2="396.70" y2="823.90" stroke="#bdbdbd" stroke-width="2.2"/>
<circle cx="381.97" cy="782.59" r="1.35" fill="#bdbdbd"/>
<circle cx="384.01" cy="782.59" r="1.35" fill="#bdbdbd"/>
<circle cx="385.03" cy="797.51" r="1.35" fill="#bdbdbd"/>
<circle cx="382.99" cy="801.60" r="1.35" fill="#bdbdbd"/>
<circle cx="384.42" cy="817.33" r="1.35" fill="#bdbdbd"/>
<circle cx="386.06" cy="824.49" r="1.35" fill="#bdbdbd"/>
<circle cx="383.60" cy="832.66" r="1.35" fill="#bdbdbd"/>
<circle cx="382.99" cy="843.29" r="1.35" fill="#bdbdbd"/>
<circle cx="384.42" cy="857.19" r="1.35" fill="#bdbdbd"/>
<circle cx="381.97" cy="861.27" r="1.35" fill="#bdbdbd"/>
<circle cx="384.01" cy="861.27" r="1.35" fill="#bdbdbd"/>
<line x1="411.05" y1="773.80" x2="411.05" y2="824.50" stroke="#f4a07a" stroke-width="1.3"/>
<line x1="411.05" y1="862.70" x2="411.05" y2="880.10" stroke="#f4a07a" stroke-width="1.3"/>
<rect x="398.90" y="824.50" width="24.30" height="38.20" fill="none" stroke="#f4a07a" stroke-width="1.3"/>
<line x1="398.90" y1="850.40" x2="423.20" y2="850.40" stroke="#f4a07a" stroke-width="2.2"/>
<circle cx="409.56" cy="774.42" r="1.35" fill="#f4a07a"/>
<circle cx="414.05" cy="785.25" r="1.35" fill="#f4a07a"/>
<circle cx="409.56" cy="803.64" r="1.35" fill="#f4a07a"/>
<circle cx="412.22" cy="810.18" r="1.35" fill="#f4a07a"/>
<circle cx="413.65" cy="827.55" r="1.35" fill="#f4a07a"/>
<circle cx="408.13" cy="831.64" r="1.35" fill="#f4a07a"/>
<circle cx="410.58" cy="839.20" r="1.35" fill="#f4a07a"/>
<circle cx="410.99" cy="849.01" r="1.35" fill="#f4a07a"/>
<circle cx="412.22" cy="854.12" r="1.35" fill="#f4a07a"/>
<circle cx="408.54" cy="861.27" r="1.35" fill="#f4a07a"/>
<circle cx="410.17" cy="866.38" r="1.35" fill="#f4a07a"/>
<circle cx="409.15" cy="880.08" r="1.35" fill="#f4a07a"/>
<line x1="284.40" y1="759.80" x2="284.40" y2="903.50" stroke="#1a1a1a" stroke-width="1.1"/>
<line x1="282.60" y1="764.30" x2="284.40" y2="764.30" stroke="#333" stroke-width="0.8"/>
<text x="278.60" y="767.55" font-size="9.3" text-anchor="end" fill="#222" textLength="4.55" lengthAdjust="spacingAndGlyphs" stroke="#222" stroke-width="0.18">2</text>
<line x1="282.60" y1="801.70" x2="284.40" y2="801.70" stroke="#333" stroke-width="0.8"/>
<text x="278.60" y="804.96" font-size="9.3" text-anchor="end" fill="#222" textLength="11.38" lengthAdjust="spacingAndGlyphs" stroke="#222" stroke-width="0.18">1.5</text>
<line x1="282.60" y1="838.50" x2="284.40" y2="838.50" stroke="#333" stroke-width="0.8"/>
<text x="278.60" y="841.75" font-size="9.3" text-anchor="end" fill="#222" textLength="4.55" lengthAdjust="spacingAndGlyphs" stroke="#222" stroke-width="0.18">1</text>
<line x1="282.60" y1="875.00" x2="284.40" y2="875.00" stroke="#333" stroke-width="0.8"/>
<text x="278.60" y="878.25" font-size="9.3" text-anchor="end" fill="#222" textLength="11.38" lengthAdjust="spacingAndGlyphs" stroke="#222" stroke-width="0.18">0.5</text>
<line x1="284.40" y1="903.50" x2="438.70" y2="903.50" stroke="#1a1a1a" stroke-width="1.1"/>
<text x="309.48" y="917.10" font-size="8.8" fill="#222" textLength="14.50" lengthAdjust="spacingAndGlyphs">0M</text>
<text x="330.75" y="917.10" font-size="8.8" fill="#222" textLength="15.39" lengthAdjust="spacingAndGlyphs">6M</text>
<text x="379.29" y="916.10" font-size="8.8" fill="#222" textLength="14.17" lengthAdjust="spacingAndGlyphs">0M</text>
<text x="400.97" y="916.10" font-size="8.8" fill="#222" textLength="14.72" lengthAdjust="spacingAndGlyphs">6M</text>
<path d="M309.5,920.5 V925.0 H345.5 V920.5" fill="none" stroke="#555" stroke-width="1.0"/>
<path d="M379.3,919.4 V924.1 H415.4 V919.4" fill="none" stroke="#555" stroke-width="1.0"/>
<text x="316.16" y="939.50" font-size="10.2" fill="#222" textLength="21.46" lengthAdjust="spacingAndGlyphs" stroke="#222" stroke-width="0.18">CPA</text>
<text x="383.93" y="938.80" font-size="10.2" fill="#222" textLength="32.25" lengthAdjust="spacingAndGlyphs" stroke="#222" stroke-width="0.18">SPIRO</text>
<text x="252.92" y="834.40" font-size="12.0" text-anchor="middle" fill="#111" textLength="69.30" lengthAdjust="spacingAndGlyphs" transform="rotate(-90 252.92 834.40)" stroke="#111" stroke-width="0.18">MCP-1 (NPX)</text>
<text x="306.61" y="729.90" font-size="8.3" fill="#222" textLength="37.22" lengthAdjust="spacingAndGlyphs">P=0.0042</text>
<text x="306.75" y="740.90" font-size="8.8" font-weight="bold" fill="#e41a1c" textLength="43.93" lengthAdjust="spacingAndGlyphs">Padj = 0.08</text>
<text x="376.81" y="729.90" font-size="8.3" fill="#222" textLength="37.13" lengthAdjust="spacingAndGlyphs">P=0.0068</text>
<text x="376.95" y="740.90" font-size="8.8" font-weight="bold" fill="#e41a1c" textLength="43.88" lengthAdjust="spacingAndGlyphs">Padj = 0.15</text>
<path d="M303.5,751.8 V746.6 H351.4 V751.8" fill="none" stroke="#666" stroke-width="1.3"/>
<path d="M373.2,751.8 V746.6 H420.6 V751.8" fill="none" stroke="#666" stroke-width="1.3"/>
<line x1="535.35" y1="781.20" x2="535.35" y2="804.60" stroke="#1a1a1a" stroke-width="1.2"/>
<line x1="535.35" y1="841.90" x2="535.35" y2="869.00" stroke="#1a1a1a" stroke-width="1.2"/>
<rect x="526.70" y="804.60" width="17.30" height="37.30" fill="none" stroke="#1a1a1a" stroke-width="1.2"/>
<line x1="526.70" y1="823.80" x2="544.00" y2="823.80" stroke="#1a1a1a" stroke-width="1.9"/>
<circle cx="538.85" cy="781.15" r="1.30" fill="#1a1a1a"/>
<circle cx="535.97" cy="782.75" r="1.30" fill="#1a1a1a"/>
<circle cx="537.57" cy="793.13" r="1.30" fill="#1a1a1a"/>
<circle cx="535.18" cy="795.53" r="1.30" fill="#1a1a1a"/>
<circle cx="536.77" cy="801.12" r="1.30" fill="#1a1a1a"/>
<circle cx="534.38" cy="803.51" r="1.30" fill="#1a1a1a"/>
<circle cx="538.37" cy="804.31" r="1.30" fill="#1a1a1a"/>
<circle cx="535.97" cy="809.11" r="1.30" fill="#1a1a1a"/>
<circle cx="534.38" cy="811.50" r="1.30" fill="#1a1a1a"/>
<circle cx="537.25" cy="815.50" r="1.30" fill="#1a1a1a"/>
<circle cx="533.58" cy="823.48" r="1.30" fill="#1a1a1a"/>
<circle cx="532.78" cy="824.28" r="1.30" fill="#1a1a1a"/>
<circle cx="537.25" cy="828.27" r="1.30" fill="#1a1a1a"/>
<circle cx="535.97" cy="844.25" r="1.30" fill="#1a1a1a"/>
<circle cx="538.37" cy="845.85" r="1.30" fill="#1a1a1a"/>
<circle cx="538.85" cy="847.44" r="1.30" fill="#1a1a1a"/>
<circle cx="535.18" cy="869.01" r="1.30" fill="#1a1a1a"/>
<circle cx="535.97" cy="842.65" r="1.30" fill="#1a1a1a"/>
<line x1="553.95" y1="805.90" x2="553.95" y2="825.10" stroke="#f07878" stroke-width="1.2"/>
<line x1="553.95" y1="854.20" x2="553.95" y2="893.80" stroke="#f07878" stroke-width="1.2"/>
<rect x="545.60" y="825.10" width="16.70" height="29.10" fill="none" stroke="#f07878" stroke-width="1.2"/>
<line x1="545.60" y1="838.70" x2="562.30" y2="838.70" stroke="#f07878" stroke-width="1.9"/>
<circle cx="551.95" cy="765.65" r="1.30" fill="#f07878"/>
<circle cx="553.55" cy="805.91" r="1.30" fill="#f07878"/>
<circle cx="557.54" cy="805.91" r="1.30" fill="#f07878"/>
<circle cx="551.15" cy="809.11" r="1.30" fill="#f07878"/>
<circle cx="555.94" cy="820.29" r="1.30" fill="#f07878"/>
<circle cx="552.75" cy="828.27" r="1.30" fill="#f07878"/>
<circle cx="551.95" cy="833.87" r="1.30" fill="#f07878"/>
<circle cx="550.35" cy="839.46" r="1.30" fill="#f07878"/>
<circle cx="556.74" cy="839.46" r="1.30" fill="#f07878"/>
<circle cx="549.55" cy="844.25" r="1.30" fill="#f07878"/>
<circle cx="551.15" cy="846.65" r="1.30" fill="#f07878"/>
<circle cx="551.95" cy="848.24" r="1.30" fill="#f07878"/>
<circle cx="550.35" cy="860.22" r="1.30" fill="#f07878"/>
<circle cx="555.14" cy="869.81" r="1.30" fill="#f07878"/>
<circle cx="552.75" cy="884.19" r="1.30" fill="#f07878"/>
<circle cx="551.15" cy="888.98" r="1.30" fill="#f07878"/>
<circle cx="550.35" cy="893.77" r="1.30" fill="#f07878"/>
<circle cx="553.55" cy="890.58" r="1.30" fill="#f07878"/>
<line x1="572.30" y1="799.50" x2="572.30" y2="823.50" stroke="#d81e1e" stroke-width="1.2"/>
<line x1="572.30" y1="844.60" x2="572.30" y2="861.80" stroke="#d81e1e" stroke-width="1.2"/>
<rect x="563.90" y="823.50" width="16.80" height="21.10" fill="none" stroke="#d81e1e" stroke-width="1.2"/>
<line x1="563.90" y1="831.80" x2="580.70" y2="831.80" stroke="#d81e1e" stroke-width="1.9"/>
<circle cx="573.51" cy="799.52" r="1.30" fill="#d81e1e"/>
<circle cx="572.72" cy="801.92" r="1.30" fill="#d81e1e"/>
<circle cx="575.11" cy="807.51" r="1.30" fill="#d81e1e"/>
<circle cx="569.52" cy="809.11" r="1.30" fill="#d81e1e"/>
<circle cx="570.32" cy="819.49" r="1.30" fill="#d81e1e"/>
<circle cx="572.72" cy="821.09" r="1.30" fill="#d81e1e"/>
<circle cx="574.31" cy="822.68" r="1.30" fill="#d81e1e"/>
<circle cx="572.72" cy="825.08" r="1.30" fill="#d81e1e"/>
<circle cx="571.12" cy="828.27" r="1.30" fill="#d81e1e"/>
<circle cx="575.11" cy="828.27" r="1.30" fill="#d81e1e"/>
<circle cx="569.52" cy="832.27" r="1.30" fill="#d81e1e"/>
<circle cx="573.51" cy="834.66" r="1.30" fill="#d81e1e"/>
<circle cx="575.11" cy="836.26" r="1.30" fill="#d81e1e"/>
<circle cx="571.92" cy="838.66" r="1.30" fill="#d81e1e"/>
<circle cx="572.72" cy="842.33" r="1.30" fill="#d81e1e"/>
<circle cx="569.52" cy="844.25" r="1.30" fill="#d81e1e"/>
<circle cx="571.92" cy="849.84" r="1.30" fill="#d81e1e"/>
<circle cx="571.12" cy="855.43" r="1.30" fill="#d81e1e"/>
<circle cx="572.72" cy="856.71" r="1.30" fill="#d81e1e"/>
<circle cx="569.20" cy="863.42" r="1.30" fill="#d81e1e"/>
<circle cx="573.19" cy="887.38" r="1.30" fill="#d81e1e"/>
<circle cx="572.40" cy="896.17" r="1.30" fill="#d81e1e"/>
<line x1="609.25" y1="786.40" x2="609.25" y2="808.30" stroke="#bdbdbd" stroke-width="1.2"/>
<line x1="609.25" y1="837.10" x2="609.25" y2="869.00" stroke="#bdbdbd" stroke-width="1.2"/>
<rect x="601.10" y="808.30" width="16.30" height="28.80" fill="none" stroke="#bdbdbd" stroke-width="1.2"/>
<line x1="601.10" y1="819.80" x2="617.40" y2="819.80" stroke="#bdbdbd" stroke-width="1.9"/>
<circle cx="610.65" cy="786.74" r="1.30" fill="#bdbdbd"/>
<circle cx="606.18" cy="794.73" r="1.30" fill="#bdbdbd"/>
<circle cx="610.65" cy="796.33" r="1.30" fill="#bdbdbd"/>
<circle cx="610.18" cy="797.92" r="1.30" fill="#bdbdbd"/>
<circle cx="606.98" cy="805.11" r="1.30" fill="#bdbdbd"/>
<circle cx="611.77" cy="806.71" r="1.30" fill="#bdbdbd"/>
<circle cx="608.58" cy="811.50" r="1.30" fill="#bdbdbd"/>
<circle cx="606.18" cy="818.69" r="1.30" fill="#bdbdbd"/>
<circle cx="610.97" cy="820.29" r="1.30" fill="#bdbdbd"/>
<circle cx="612.57" cy="820.29" r="1.30" fill="#bdbdbd"/>
<circle cx="606.18" cy="828.27" r="1.30" fill="#bdbdbd"/>
<circle cx="611.77" cy="828.27" r="1.30" fill="#bdbdbd"/>
<circle cx="609.06" cy="836.26" r="1.30" fill="#bdbdbd"/>
<circle cx="609.38" cy="838.66" r="1.30" fill="#bdbdbd"/>
<circle cx="612.57" cy="844.25" r="1.30" fill="#bdbdbd"/>
<circle cx="610.18" cy="865.02" r="1.30" fill="#bdbdbd"/>
<circle cx="611.77" cy="869.01" r="1.30" fill="#bdbdbd"/>
<line x1="627.60" y1="796.30" x2="627.60" y2="816.30" stroke="#f08050" stroke-width="1.2"/>
<line x1="627.60" y1="857.80" x2="627.60" y2="882.60" stroke="#f08050" stroke-width="1.2"/>
<rect x="619.00" y="816.30" width="17.20" height="41.50" fill="none" stroke="#f08050" stroke-width="1.2"/>
<line x1="619.00" y1="832.70" x2="636.20" y2="832.70" stroke="#f08050" stroke-width="1.9"/>
<circle cx="625.35" cy="796.33" r="1.30" fill="#f08050"/>
<circle cx="626.95" cy="797.92" r="1.30" fill="#f08050"/>
<circle cx="629.35" cy="799.52" r="1.30" fill="#f08050"/>
<circle cx="628.55" cy="802.72" r="1.30" fill="#f08050"/>
<circle cx="629.35" cy="815.50" r="1.30" fill="#f08050"/>
<circle cx="627.75" cy="820.29" r="1.30" fill="#f08050"/>
<circle cx="629.35" cy="821.88" r="1.30" fill="#f08050"/>
<circle cx="626.15" cy="825.08" r="1.30" fill="#f08050"/>
<circle cx="628.55" cy="826.68" r="1.30" fill="#f08050"/>
<circle cx="626.15" cy="847.44" r="1.30" fill="#f08050"/>
<circle cx="625.35" cy="849.84" r="1.30" fill="#f08050"/>
<circle cx="630.94" cy="853.83" r="1.30" fill="#f08050"/>
<circle cx="626.15" cy="856.23" r="1.30" fill="#f08050"/>
<circle cx="628.55" cy="857.83" r="1.30" fill="#f08050"/>
<circle cx="625.35" cy="860.22" r="1.30" fill="#f08050"/>
<circle cx="626.95" cy="862.62" r="1.30" fill="#f08050"/>
<circle cx="624.55" cy="865.02" r="1.30" fill="#f08050"/>
<circle cx="626.15" cy="866.61" r="1.30" fill="#f08050"/>
<circle cx="626.95" cy="882.59" r="1.30" fill="#f08050"/>
<line x1="646.35" y1="789.10" x2="646.35" y2="824.00" stroke="#f4a07a" stroke-width="1.2"/>
<line x1="646.35" y1="857.30" x2="646.35" y2="881.80" stroke="#f4a07a" stroke-width="1.2"/>
<rect x="637.80" y="824.00" width="17.10" height="33.30" fill="none" stroke="#f4a07a" stroke-width="1.2"/>
<line x1="637.80" y1="842.30" x2="654.90" y2="842.30" stroke="#f4a07a" stroke-width="1.9"/>
<circle cx="649.31" cy="789.14" r="1.30" fill="#f4a07a"/>
<circle cx="649.31" cy="799.52" r="1.30" fill="#f4a07a"/>
<circle cx="647.72" cy="808.31" r="1.30" fill="#f4a07a"/>
<circle cx="642.92" cy="809.90" r="1.30" fill="#f4a07a"/>
<circle cx="648.51" cy="813.10" r="1.30" fill="#f4a07a"/>
<circle cx="647.72" cy="814.70" r="1.30" fill="#f4a07a"/>
<circle cx="643.72" cy="828.27" r="1.30" fill="#f4a07a"/>
<circle cx="646.92" cy="827.48" r="1.30" fill="#f4a07a"/>
<circle cx="644.52" cy="831.15" r="1.30" fill="#f4a07a"/>
<circle cx="650.11" cy="837.86" r="1.30" fill="#f4a07a"/>
<circle cx="645.32" cy="842.33" r="1.30" fill="#f4a07a"/>
<circle cx="643.72" cy="845.85" r="1.30" fill="#f4a07a"/>
<circle cx="643.72" cy="851.44" r="1.30" fill="#f4a07a"/>
<circle cx="646.12" cy="855.43" r="1.30" fill="#f4a07a"/>
<circle cx="648.51" cy="861.02" r="1.30" fill="#f4a07a"/>
<circle cx="646.12" cy="865.02" r="1.30" fill="#f4a07a"/>
<circle cx="643.72" cy="869.81" r="1.30" fill="#f4a07a"/>
<circle cx="649.31" cy="872.20" r="1.30" fill="#f4a07a"/>
<circle cx="646.92" cy="876.20" r="1.30" fill="#f4a07a"/>
<circle cx="643.72" cy="881.31" r="1.30" fill="#f4a07a"/>
<line x1="509.40" y1="759.60" x2="509.40" y2="902.60" stroke="#1a1a1a" stroke-width="1.1"/>
<line x1="507.20" y1="782.50" x2="509.40" y2="782.50" stroke="#333" stroke-width="0.8"/>
<text x="503.40" y="785.65" font-size="9.0" text-anchor="end" fill="#222" stroke="#222" stroke-width="0.18">2</text>
<line x1="507.20" y1="807.40" x2="509.40" y2="807.40" stroke="#333" stroke-width="0.8"/>
<text x="503.40" y="810.55" font-size="9.0" text-anchor="end" fill="#222" stroke="#222" stroke-width="0.18">1</text>
<line x1="507.20" y1="832.60" x2="509.40" y2="832.60" stroke="#333" stroke-width="0.8"/>
<text x="503.40" y="835.75" font-size="9.0" text-anchor="end" fill="#222" stroke="#222" stroke-width="0.18">0</text>
<line x1="507.20" y1="857.70" x2="509.40" y2="857.70" stroke="#333" stroke-width="0.8"/>
<text x="503.40" y="860.85" font-size="9.0" text-anchor="end" fill="#222" stroke="#222" stroke-width="0.18">-1</text>
<line x1="507.20" y1="882.90" x2="509.40" y2="882.90" stroke="#333" stroke-width="0.8"/>
<text x="503.40" y="886.05" font-size="9.0" text-anchor="end" fill="#222" stroke="#222" stroke-width="0.18">-2</text>
<line x1="509.40" y1="903.30" x2="667.40" y2="903.30" stroke="#1a1a1a" stroke-width="1.2"/>
<text x="528.30" y="916.40" font-size="8.6" fill="#222" textLength="13.84" lengthAdjust="spacingAndGlyphs">0M</text>
<text x="546.25" y="916.40" font-size="8.6" fill="#222" textLength="13.78" lengthAdjust="spacingAndGlyphs">3M</text>
<text x="563.70" y="916.40" font-size="8.6" fill="#222" textLength="13.95" lengthAdjust="spacingAndGlyphs">6M</text>
<text x="605.70" y="916.40" font-size="8.6" fill="#222" textLength="13.84" lengthAdjust="spacingAndGlyphs">0M</text>
<text x="623.55" y="916.40" font-size="8.6" fill="#222" textLength="13.78" lengthAdjust="spacingAndGlyphs">3M</text>
<text x="641.10" y="916.40" font-size="8.6" fill="#222" textLength="13.95" lengthAdjust="spacingAndGlyphs">6M</text>
<path d="M529.3,918.5 V922.2 H576.9 V918.5" fill="none" stroke="#555" stroke-width="1.0"/>
<path d="M606.7,917.5 V922.0 H654.6 V917.5" fill="none" stroke="#555" stroke-width="1.0"/>
<text x="541.67" y="935.60" font-size="10.0" fill="#222" textLength="20.95" lengthAdjust="spacingAndGlyphs" stroke="#222" stroke-width="0.18">CPA</text>
<text x="613.84" y="935.00" font-size="10.0" fill="#222" textLength="31.84" lengthAdjust="spacingAndGlyphs" stroke="#222" stroke-width="0.18">SPIRO</text>
<text x="482.17" y="830.30" font-size="10.2" text-anchor="middle" fill="#111" textLength="136.00" lengthAdjust="spacingAndGlyphs" transform="rotate(-90 482.17 830.30)" stroke="#111" stroke-width="0.18">MCP-1 (Luminex z-score)</text>
<text x="511.21" y="896.60" font-size="7.6" fill="#222" textLength="23.87" lengthAdjust="spacingAndGlyphs">N=49</text>
<text x="525.70" y="743.80" font-size="8.4" fill="#222" textLength="56.65" lengthAdjust="spacingAndGlyphs">Padj=0.0039</text>
<text x="599.21" y="743.10" font-size="8.4" fill="#222" textLength="55.98" lengthAdjust="spacingAndGlyphs">Padj=0.0036</text>
<path d="M530.6,753.2 V748.2 H578.2 V753.2" fill="none" stroke="#777" stroke-width="1.0"/>
<path d="M603.8,753.2 V748.2 H651.4 V753.2" fill="none" stroke="#777" stroke-width="1.0"/>
</svg>
</body></html>
